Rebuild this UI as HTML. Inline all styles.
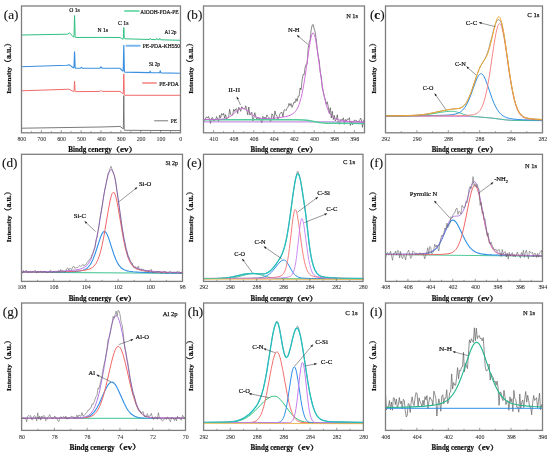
<!DOCTYPE html>
<html><head><meta charset="utf-8"><style>
html,body{margin:0;padding:0;background:#fff;}
body{width:550px;height:455px;overflow:hidden;}
svg{display:block;}
</style></head><body>
<svg width="550" height="455" viewBox="0 0 550 455" font-family='"Liberation Serif", "Noto Serif CJK SC", serif'>
<rect width="550" height="455" fill="#fff"/>
<polyline points="21.5,128.2 100.95,127 118.85,126.5 120.04,126.4 122.83,128.57 123.12,128.89 123.22,128.84 123.32,128.12 123.42,125.39 123.72,98.07 123.82,95.59 124.12,123.34 124.22,128.12 124.32,129.81 124.42,130.22 124.52,130.29 180.5,130.6" fill="none" stroke="#6b6b6b" stroke-width="0.9" stroke-linejoin="round" stroke-linecap="round"/>
<polyline points="21.5,90.8 67.14,89.3 68.73,89.11 72.91,91.26 73.8,91.51 74,90.99 74.1,90.08 74.5,81.5 74.6,81.2 75,89.62 75.2,91.36 75.39,91.66 99.66,91.41 100.25,91.24 100.85,90.47 101.05,90.41 101.75,91.23 102.24,91.39 120.04,91.4 123.12,93.85 123.22,93.71 123.32,92.93 123.42,90.69 123.72,75.1 123.82,73.93 124.22,93.05 124.32,94.63 124.52,95.27 180.5,95.3" fill="none" stroke="#f06a6a" stroke-width="1.0" stroke-linejoin="round" stroke-linecap="round"/>
<polyline points="21.5,66.7 66.25,65.3 68.04,65.18 69.03,64.62 73.01,67.52 73.7,67.92 73.9,67.5 74.1,64.95 74.4,54.78 74.5,52.23 74.6,51.83 75.1,66.27 75.3,67.98 75.49,68.26 80.07,68.23 80.57,68.03 81.36,67.35 81.66,67.46 82.36,68.1 82.95,68.23 99.66,68.11 100.06,68.03 100.25,67.88 100.85,66.89 101.05,66.81 101.75,67.88 102.24,68.1 120.04,68.3 122.93,71.17 123.12,70.5 123.32,66.54 123.72,46.14 123.82,45.22 124.32,68.7 124.52,71.65 124.72,72.16 149.28,72.64 149.48,72.59 149.67,72.33 150.07,71.16 150.17,71.24 150.57,72.47 150.87,72.67 159.42,72.82 159.72,72.63 160.21,70.84 160.31,70.97 160.71,72.59 161.01,72.84 180.5,73.2" fill="none" stroke="#3a8fe0" stroke-width="1.1" stroke-linejoin="round" stroke-linecap="round"/>
<polyline points="21.5,35 67.54,34.2 69.63,32.83 73.11,36.82 73.7,37.19 73.8,37.15 73.9,36.87 74.1,34.11 74.5,16.14 74.6,15.51 75.1,35.62 75.3,37.29 75.49,37.48 100.95,37.4 120.04,37.5 122.93,39.28 123.12,39.17 123.22,38.99 123.32,38.46 123.72,28.29 123.82,27.54 124.22,37.6 124.32,38.43 124.52,38.79 149.38,39.47 149.77,39.3 150.27,38.2 150.37,38.26 150.77,39.27 151.07,39.5 155.94,39.64 156.14,39.62 156.34,39.46 156.83,38.27 156.93,38.34 157.33,39.44 157.53,39.64 158.92,39.72 159.12,39.7 159.32,39.54 159.82,38.35 159.92,38.43 160.31,39.52 160.51,39.72 160.71,39.77 180.5,40.3" fill="none" stroke="#2fc083" stroke-width="1.0" stroke-linejoin="round" stroke-linecap="round"/>
<polyline points="125,11 138.8,11" fill="none" stroke="#7edcb2" stroke-width="2.0" stroke-linejoin="round" stroke-linecap="round"/>
<text x="140.3" y="13.6" font-size="6.36" text-anchor="start" fill="#111" textLength="38.3" lengthAdjust="spacingAndGlyphs" stroke="#111" stroke-width="0.22">AlOOH-PDA-PE</text>
<polyline points="126.5,45.8 139.7,45.8" fill="none" stroke="#7ab6f0" stroke-width="2.0" stroke-linejoin="round" stroke-linecap="round"/>
<text x="142.8" y="48.3" font-size="6.36" text-anchor="start" fill="#111" textLength="37.2" lengthAdjust="spacingAndGlyphs" stroke="#111" stroke-width="0.22">PE-PDA-KH550</text>
<polyline points="143,83 156,83" fill="none" stroke="#f7a0a0" stroke-width="2.0" stroke-linejoin="round" stroke-linecap="round"/>
<text x="159.2" y="85.8" font-size="6.36" text-anchor="start" fill="#111" textLength="19.6" lengthAdjust="spacingAndGlyphs" stroke="#111" stroke-width="0.22">PE-PDA</text>
<polyline points="154.6,120.8 167.7,120.8" fill="none" stroke="#777" stroke-width="1.0" stroke-linejoin="round" stroke-linecap="round"/>
<text x="170.8" y="123.3" font-size="6.36" text-anchor="start" fill="#111" textLength="6.2" lengthAdjust="spacingAndGlyphs" stroke="#111" stroke-width="0.22">PE</text>
<text x="69.2" y="12.2" font-size="6.57" text-anchor="start" fill="#111" textLength="10.5" lengthAdjust="spacingAndGlyphs" stroke="#111" stroke-width="0.22">O 1s</text>
<text x="118" y="25.2" font-size="6.57" text-anchor="start" fill="#111" textLength="10.5" lengthAdjust="spacingAndGlyphs" stroke="#111" stroke-width="0.22">C 1s</text>
<text x="108" y="32.2" font-size="6.57" text-anchor="end" fill="#111" textLength="10.5" lengthAdjust="spacingAndGlyphs" stroke="#111" stroke-width="0.22">N 1s</text>
<text x="164.6" y="34.2" font-size="6.57" text-anchor="start" fill="#111" textLength="11.9" lengthAdjust="spacingAndGlyphs" stroke="#111" stroke-width="0.22">Al 2p</text>
<text x="149" y="66" font-size="6.57" text-anchor="start" fill="#111" textLength="11" lengthAdjust="spacingAndGlyphs" stroke="#111" stroke-width="0.22">Si 2p</text>
<line x1="170.56" y1="132.8" x2="170.56" y2="131.2" stroke="#555" stroke-width="0.6"/>
<line x1="160.62" y1="132.8" x2="160.62" y2="130.2" stroke="#555" stroke-width="0.6"/>
<line x1="150.69" y1="132.8" x2="150.69" y2="131.2" stroke="#555" stroke-width="0.6"/>
<line x1="140.75" y1="132.8" x2="140.75" y2="130.2" stroke="#555" stroke-width="0.6"/>
<line x1="130.81" y1="132.8" x2="130.81" y2="131.2" stroke="#555" stroke-width="0.6"/>
<line x1="120.88" y1="132.8" x2="120.88" y2="130.2" stroke="#555" stroke-width="0.6"/>
<line x1="110.94" y1="132.8" x2="110.94" y2="131.2" stroke="#555" stroke-width="0.6"/>
<line x1="101" y1="132.8" x2="101" y2="130.2" stroke="#555" stroke-width="0.6"/>
<line x1="91.06" y1="132.8" x2="91.06" y2="131.2" stroke="#555" stroke-width="0.6"/>
<line x1="81.12" y1="132.8" x2="81.12" y2="130.2" stroke="#555" stroke-width="0.6"/>
<line x1="71.19" y1="132.8" x2="71.19" y2="131.2" stroke="#555" stroke-width="0.6"/>
<line x1="61.25" y1="132.8" x2="61.25" y2="130.2" stroke="#555" stroke-width="0.6"/>
<line x1="51.31" y1="132.8" x2="51.31" y2="131.2" stroke="#555" stroke-width="0.6"/>
<line x1="41.38" y1="132.8" x2="41.38" y2="130.2" stroke="#555" stroke-width="0.6"/>
<line x1="31.44" y1="132.8" x2="31.44" y2="131.2" stroke="#555" stroke-width="0.6"/>
<rect x="21.5" y="6" width="159" height="126.8" fill="none" stroke="#7e7e7e" stroke-width="1.3"/>
<text x="21.8" y="140.8" font-size="7" text-anchor="middle" fill="#2a2a2a" textLength="8.85" lengthAdjust="spacingAndGlyphs" stroke="#2a2a2a" stroke-width="0.05">800</text>
<text x="41.67" y="140.8" font-size="7" text-anchor="middle" fill="#2a2a2a" textLength="8.85" lengthAdjust="spacingAndGlyphs" stroke="#2a2a2a" stroke-width="0.05">700</text>
<text x="61.55" y="140.8" font-size="7" text-anchor="middle" fill="#2a2a2a" textLength="8.85" lengthAdjust="spacingAndGlyphs" stroke="#2a2a2a" stroke-width="0.05">600</text>
<text x="81.42" y="140.8" font-size="7" text-anchor="middle" fill="#2a2a2a" textLength="8.85" lengthAdjust="spacingAndGlyphs" stroke="#2a2a2a" stroke-width="0.05">500</text>
<text x="101.3" y="140.8" font-size="7" text-anchor="middle" fill="#2a2a2a" textLength="8.85" lengthAdjust="spacingAndGlyphs" stroke="#2a2a2a" stroke-width="0.05">400</text>
<text x="121.17" y="140.8" font-size="7" text-anchor="middle" fill="#2a2a2a" textLength="8.85" lengthAdjust="spacingAndGlyphs" stroke="#2a2a2a" stroke-width="0.05">300</text>
<text x="141.05" y="140.8" font-size="7" text-anchor="middle" fill="#2a2a2a" textLength="8.85" lengthAdjust="spacingAndGlyphs" stroke="#2a2a2a" stroke-width="0.05">200</text>
<text x="160.93" y="140.8" font-size="7" text-anchor="middle" fill="#2a2a2a" textLength="8.85" lengthAdjust="spacingAndGlyphs" stroke="#2a2a2a" stroke-width="0.05">100</text>
<text x="180.8" y="140.8" font-size="7" text-anchor="middle" fill="#2a2a2a" textLength="2.95" lengthAdjust="spacingAndGlyphs" stroke="#2a2a2a" stroke-width="0.05">0</text>
<text x="68.2" y="151.8" font-size="7.2" text-anchor="start" font-weight="bold" fill="#111" textLength="43.6" lengthAdjust="spacingAndGlyphs" stroke="#111" stroke-width="0.22">Bindg cenergy</text>
<text x="110.9" y="151.8" font-size="7.2" text-anchor="start" font-weight="bold" fill="#111" textLength="26.6" lengthAdjust="spacingAndGlyphs" stroke="#111" stroke-width="0.22"><tspan font-family="'Noto Serif CJK SC', serif" font-weight="900">（</tspan>ev<tspan font-family="'Noto Serif CJK SC', serif" font-weight="900">）</tspan></text>
<text x="0" y="0" font-size="7.1" font-weight="bold" text-anchor="middle" fill="#111" stroke="#111" stroke-width="0.2" transform="translate(10.7,66.3) rotate(-90)">Intensity<tspan font-size="7.9" font-family="'Noto Serif CJK SC', serif" font-weight="900">（</tspan><tspan font-size="7.9">a.u.</tspan><tspan font-size="7.9" font-family="'Noto Serif CJK SC', serif" font-weight="900">）</tspan></text>
<text x="3.8" y="19" font-size="13.2" text-anchor="start" fill="#111" stroke="#111" stroke-width="0.12">(a)</text>
<polyline points="203.5,119.49 204.51,120.38 206.52,116.81 207.52,118.11 208.53,116.49 209.54,119.64 210.54,123.48 211.55,117.98 212.56,117.58 213.56,120.91 214.57,120.5 215.57,119.73 216.58,116.61 217.59,119.29 218.59,121.43 219.6,115.27 220.61,117.87 221.61,113.46 222.62,115.19 223.62,113.39 224.63,118.02 225.64,114.68 226.64,118.98 227.65,118.26 228.66,116.76 229.66,109.22 230.67,114.52 231.68,115.27 232.68,114.96 233.69,109.18 234.69,111.46 235.7,109.06 236.71,108.71 237.71,113.52 238.72,107.22 239.73,108.98 240.73,111.32 241.74,106.69 242.74,108.07 243.75,108.9 244.76,109.1 245.76,105.75 247.77,114.9 248.78,107 249.79,115.08 251.8,112.26 252.81,120.96 253.81,117.95 254.82,112.68 255.82,117.04 256.83,118.99 257.84,117.05 258.84,119.95 259.85,117.92 261.86,122.69 262.87,116.41 263.88,119.07 264.88,117.07 265.89,118.81 266.89,114.81 267.9,116.56 268.91,117.6 269.91,120.76 270.92,121.35 271.93,113.75 272.93,115.11 273.94,119.17 274.94,110.94 275.95,115.16 276.96,115.84 277.96,119.42 278.97,117.17 279.98,113.5 280.98,112.7 281.99,112.32 282.99,116.84 284,110.13 285.01,109.61 286.01,110.66 287.02,108.29 288.02,107.1 289.03,103.4 290.04,105.75 291.04,103.51 292.05,107.4 293.06,104.9 294.06,101.87 295.07,102.86 296.07,98.62 297.08,101.37 298.09,96.48 299.09,96.16 300.1,87.99 301.11,89.8 302.11,79.99 303.12,74.59 304.12,74.75 305.13,67.32 306.14,64.35 307.14,64.09 308.15,48.26 309.16,42.54 310.16,39.4 311.17,29.86 312.18,25.17 313.18,24.51 314.19,28.92 315.19,32.16 316.2,39.01 317.21,48.6 318.21,56.36 319.22,60.74 320.23,72.23 321.23,76.04 322.24,88.14 323.24,91.73 324.25,96.64 325.26,99.09 326.26,104.29 327.27,101.8 328.27,106.97 329.28,113.52 330.29,107.71 331.29,117.96 332.3,111.23 333.31,119.57 334.31,115.44 335.32,120.86 336.32,119.37 337.33,114.74 338.34,123.42 339.34,124.28 340.35,120 341.36,119.59 342.36,120.12 343.37,117.85 344.38,124.23 345.38,119.45 346.39,121.06 347.39,118.95 348.4,119.57 349.41,117.71 350.41,125.41 351.42,121.27 352.43,124.71 353.43,121.93 354.44,119.87 355.44,121.04 356.45,120.4 357.46,122.16 358.46,121.07 359.47,121.35 360.48,118.16 361.48,119.92 362.49,127.34 363.49,120.4 364.5,119.29" fill="none" stroke="#3a3a3a" stroke-width="0.6" stroke-linejoin="round" stroke-linecap="round"/>
<polyline points="203.5,121.9 364.5,121.9" fill="none" stroke="#b565d8" stroke-width="0.9" stroke-linejoin="round" stroke-linecap="round"/>
<polyline points="203.5,119.7 284,119.7 298.09,119.8 303.12,120 307.14,120.34 311.17,120.96 319.22,122.48 322.24,122.87 326.26,123.16 336.32,123.37 364.5,123.4" fill="none" stroke="#4fcc9a" stroke-width="1.5" stroke-linejoin="round" stroke-linecap="round"/>
<polyline points="203.5,119.49 214.57,119.43 219.6,119.31 222.62,119.06 225.64,118.48 227.65,117.79 229.66,116.77 231.68,115.41 236.71,111.14 238.72,109.64 239.73,109.07 240.73,108.67 241.74,108.44 242.74,108.41 243.75,108.57 244.76,108.91 245.76,109.42 247.77,110.82 252.81,114.96 254.82,116.28 255.82,116.81 256.83,117.26 258.84,117.91 261.86,118.4 265.89,118.52 270.92,118.32 276.96,117.85 281.99,117.24 286.01,116.51 289.03,115.69 291.04,114.88 293.06,113.69 294.06,112.88 295.07,111.86 296.07,110.57 297.08,108.96 298.09,106.94 299.09,104.44 300.1,101.39 301.11,97.71 302.11,93.36 303.12,88.32 304.12,82.58 306.14,69.36 309.16,48 310.16,41.82 311.17,36.91 312.18,33.8 313.18,32.85 314.19,34.2 315.19,37.71 316.2,42.99 317.21,49.52 321.23,78.84 323.24,91.28 324.25,96.46 325.26,100.92 326.26,104.69 327.27,107.82 328.27,110.38 329.28,112.45 330.29,114.1 331.29,115.42 332.3,116.47 333.31,117.31 335.32,118.52 336.32,118.97 338.34,119.67 342.36,120.6 348.4,121.44 355.44,122.02 364.5,122.46" fill="none" stroke="#cc62d8" stroke-width="0.9" stroke-linejoin="round" stroke-linecap="round"/>
<text x="287.9" y="31.6" font-size="7" text-anchor="start" fill="#111" textLength="11.7" lengthAdjust="spacingAndGlyphs" stroke="#111" stroke-width="0.22">N-H</text>
<line x1="297" y1="35.2" x2="307.8" y2="44.2" stroke="#333" stroke-width="0.5"/>
<polygon points="297,35.2 299.7,36.02 298.29,37.71" fill="#222"/>
<text x="228.2" y="92.3" font-size="7" text-anchor="start" fill="#111" textLength="11.8" lengthAdjust="spacingAndGlyphs" stroke="#111" stroke-width="0.22">II-II</text>
<line x1="236.8" y1="96.8" x2="240.5" y2="105" stroke="#333" stroke-width="0.5"/>
<polygon points="236.8,96.8 238.87,98.72 236.87,99.62" fill="#222"/>
<line x1="354.44" y1="132.8" x2="354.44" y2="130.2" stroke="#555" stroke-width="0.6"/>
<line x1="344.38" y1="132.8" x2="344.38" y2="131.2" stroke="#555" stroke-width="0.6"/>
<line x1="334.31" y1="132.8" x2="334.31" y2="130.2" stroke="#555" stroke-width="0.6"/>
<line x1="324.25" y1="132.8" x2="324.25" y2="131.2" stroke="#555" stroke-width="0.6"/>
<line x1="314.19" y1="132.8" x2="314.19" y2="130.2" stroke="#555" stroke-width="0.6"/>
<line x1="304.12" y1="132.8" x2="304.12" y2="131.2" stroke="#555" stroke-width="0.6"/>
<line x1="294.06" y1="132.8" x2="294.06" y2="130.2" stroke="#555" stroke-width="0.6"/>
<line x1="284" y1="132.8" x2="284" y2="131.2" stroke="#555" stroke-width="0.6"/>
<line x1="273.94" y1="132.8" x2="273.94" y2="130.2" stroke="#555" stroke-width="0.6"/>
<line x1="263.88" y1="132.8" x2="263.88" y2="131.2" stroke="#555" stroke-width="0.6"/>
<line x1="253.81" y1="132.8" x2="253.81" y2="130.2" stroke="#555" stroke-width="0.6"/>
<line x1="243.75" y1="132.8" x2="243.75" y2="131.2" stroke="#555" stroke-width="0.6"/>
<line x1="233.69" y1="132.8" x2="233.69" y2="130.2" stroke="#555" stroke-width="0.6"/>
<line x1="223.62" y1="132.8" x2="223.62" y2="131.2" stroke="#555" stroke-width="0.6"/>
<line x1="213.56" y1="132.8" x2="213.56" y2="130.2" stroke="#555" stroke-width="0.6"/>
<rect x="203.5" y="6" width="161" height="126.8" fill="none" stroke="#7e7e7e" stroke-width="1.3"/>
<text x="213.86" y="140.8" font-size="7" text-anchor="middle" fill="#2a2a2a" textLength="8.85" lengthAdjust="spacingAndGlyphs" stroke="#2a2a2a" stroke-width="0.05">410</text>
<text x="233.99" y="140.8" font-size="7" text-anchor="middle" fill="#2a2a2a" textLength="8.85" lengthAdjust="spacingAndGlyphs" stroke="#2a2a2a" stroke-width="0.05">408</text>
<text x="254.11" y="140.8" font-size="7" text-anchor="middle" fill="#2a2a2a" textLength="8.85" lengthAdjust="spacingAndGlyphs" stroke="#2a2a2a" stroke-width="0.05">406</text>
<text x="274.24" y="140.8" font-size="7" text-anchor="middle" fill="#2a2a2a" textLength="8.85" lengthAdjust="spacingAndGlyphs" stroke="#2a2a2a" stroke-width="0.05">404</text>
<text x="294.36" y="140.8" font-size="7" text-anchor="middle" fill="#2a2a2a" textLength="8.85" lengthAdjust="spacingAndGlyphs" stroke="#2a2a2a" stroke-width="0.05">402</text>
<text x="314.49" y="140.8" font-size="7" text-anchor="middle" fill="#2a2a2a" textLength="8.85" lengthAdjust="spacingAndGlyphs" stroke="#2a2a2a" stroke-width="0.05">400</text>
<text x="334.61" y="140.8" font-size="7" text-anchor="middle" fill="#2a2a2a" textLength="8.85" lengthAdjust="spacingAndGlyphs" stroke="#2a2a2a" stroke-width="0.05">398</text>
<text x="354.74" y="140.8" font-size="7" text-anchor="middle" fill="#2a2a2a" textLength="8.85" lengthAdjust="spacingAndGlyphs" stroke="#2a2a2a" stroke-width="0.05">396</text>
<text x="250.6" y="151.8" font-size="7.2" text-anchor="start" font-weight="bold" fill="#111" textLength="42.51" lengthAdjust="spacingAndGlyphs" stroke="#111" stroke-width="0.22">Bindg cenergy</text>
<text x="292.23" y="151.8" font-size="7.2" text-anchor="start" font-weight="bold" fill="#111" textLength="25.93" lengthAdjust="spacingAndGlyphs" stroke="#111" stroke-width="0.22"><tspan font-family="'Noto Serif CJK SC', serif" font-weight="900">（</tspan>ev<tspan font-family="'Noto Serif CJK SC', serif" font-weight="900">）</tspan></text>
<text x="0" y="0" font-size="7.1" font-weight="bold" text-anchor="middle" fill="#111" stroke="#111" stroke-width="0.2" transform="translate(193.4,66.3) rotate(-90)">Intensity<tspan font-size="7.9" font-family="'Noto Serif CJK SC', serif" font-weight="900">（</tspan><tspan font-size="7.9">a.u.</tspan><tspan font-size="7.9" font-family="'Noto Serif CJK SC', serif" font-weight="900">）</tspan></text>
<text x="186.9" y="18.8" font-size="13.2" text-anchor="start" fill="#111" stroke="#111" stroke-width="0.12">(b)</text>
<text x="358" y="18" font-size="6.9" text-anchor="end" fill="#1a1a1a" textLength="11.8" lengthAdjust="spacingAndGlyphs" stroke="#1a1a1a" stroke-width="0.25">N 1s</text>
<polyline points="385.5,116.1 435.91,116.18 469.51,116.56 477.91,116.93 487.89,117.69 493.67,118.3 504.69,119.77 510.47,120.26 519.4,120.52 542.5,120.6" fill="none" stroke="#c98ae8" stroke-width="0.9" stroke-linejoin="round" stroke-linecap="round"/>
<polyline points="385.5,116.1 407.03,116.02 413.33,115.86 418.58,115.57 423.31,115.15 428.03,114.55 440.63,112.36 444.83,111.75 449.04,111.37 452.71,111.32 454.29,111.47 456.39,111.89 458.49,112.52 465.31,114.86 467.94,115.55 470.56,116.05 475.29,116.64 491.57,118.06 505.74,119.88 510.47,120.26 516.25,120.47 542.5,120.6" fill="none" stroke="#3cc490" stroke-width="0.9" stroke-linejoin="round" stroke-linecap="round"/>
<polyline points="385.5,115.94 422.26,115.72 434.33,115.54 443.26,115.28 449.04,114.97 452.71,114.58 455.86,113.97 458.49,113.04 460.59,111.85 461.64,111.04 462.69,110.07 463.74,108.9 464.79,107.52 466.36,105.02 467.94,101.98 470.04,97.1 475.29,82.68 476.34,80 477.39,77.64 478.44,75.73 479.49,74.39 480.02,73.97 480.54,73.72 481.07,73.65 481.59,73.76 482.12,74.05 483.17,75.16 484.22,76.9 485.27,79.15 486.84,83.24 492.09,98.4 494.19,103.62 495.77,106.94 497.34,109.72 498.92,111.98 500.49,113.78 502.07,115.18 504.17,116.57 506.79,117.72 509.42,118.45 513.1,119.06 517.82,119.5 523.6,119.79 542.5,120.23" fill="none" stroke="#2f8fe6" stroke-width="1.0" stroke-linejoin="round" stroke-linecap="round"/>
<polyline points="385.5,116 445.36,115.83 455.86,115.71 464.26,115.49 469.51,115.21 473.19,114.73 474.76,114.31 475.81,113.91 476.86,113.36 477.91,112.63 478.96,111.66 480.02,110.38 481.07,108.73 482.12,106.64 483.17,104.03 484.22,100.83 485.79,94.83 487.37,87.31 488.94,78.33 490.52,68.18 493.67,46.64 494.72,40 495.77,34.11 496.82,29.28 497.87,25.81 498.39,24.66 498.92,23.92 499.44,23.61 499.97,23.74 500.49,24.29 501.02,25.25 501.54,26.61 502.07,28.35 503.12,32.85 504.17,38.49 505.22,44.98 509.42,73.79 510.99,83.7 512.05,89.62 513.62,97.3 514.67,101.58 515.72,105.21 517.3,109.54 518.87,112.71 520.45,114.95 521.5,116.04 522.55,116.88 523.6,117.52 524.65,118.01 525.7,118.38 527.27,118.78 530.42,119.25 535.15,119.61 542.5,119.92" fill="none" stroke="#f57a7a" stroke-width="0.9" stroke-linejoin="round" stroke-linecap="round"/>
<polyline points="385.5,115.85 400.73,115.73 409.65,115.53 416.48,115.19 422.78,114.58 426.46,114.07 430.66,113.33 442.21,110.84 446.93,109.93 452.71,109.04 457.44,108.62 459.01,108.38 460.06,108.1 461.11,107.7 462.16,107.13 463.21,106.37 464.79,104.79 465.84,103.42 466.89,101.76 468.46,98.74 470.04,95.09 471.61,90.9 476.86,75.18 478.96,69.6 480.02,67.24 481.07,65.2 484.74,59.26 486.32,56.05 487.37,53.3 488.94,48.21 493.67,29.85 495.24,24.65 496.29,22.04 496.82,21.07 497.34,20.34 497.87,19.85 498.39,19.61 498.92,19.63 499.44,19.91 499.97,20.47 500.49,21.3 501.02,22.43 502.07,25.64 503.12,30.14 504.17,35.83 505.22,42.46 509.42,72.04 510.99,82.17 512.05,88.21 513.1,93.59 514.67,100.38 516.25,105.71 517.82,109.71 519.4,112.62 520.97,114.67 522.02,115.67 523.07,116.44 524.12,117.04 525.17,117.5 527.8,118.25 530.95,118.74 535.67,119.17 542.5,119.54" fill="none" stroke="#7a7a7a" stroke-width="0.8" stroke-linejoin="round" stroke-linecap="round"/>
<polyline points="385.5,115.85 400.73,115.73 409.65,115.53 416.48,115.19 422.78,114.58 426.46,114.07 430.66,113.33 442.21,110.84 446.93,109.93 452.71,109.04 457.44,108.62 459.01,108.38 460.06,108.1 461.11,107.7 462.16,107.13 463.21,106.37 464.79,104.79 465.84,103.42 466.89,101.76 468.46,98.74 470.04,95.09 471.61,90.9 476.86,75.18 478.96,69.6 480.02,67.25 481.07,65.21 482.12,63.45 485.27,58.68 486.32,56.74 487.37,54.38 488.42,51.52 489.99,46.24 491.57,39.92 494.19,28.5 495.77,22.48 496.82,19.42 497.34,18.29 497.87,17.48 498.39,17 498.92,16.89 499.44,17.16 499.97,17.81 500.49,18.84 501.54,22 502.59,26.51 503.64,32.17 504.69,38.72 509.42,72.04 510.99,82.17 512.05,88.21 513.1,93.59 514.67,100.38 515.72,104.09 517.3,108.51 518.87,111.76 520.45,114.07 521.5,115.2 522.55,116.08 523.6,116.76 524.65,117.28 525.7,117.68 527.27,118.13 530.42,118.68 535.15,119.13 542.5,119.54" fill="none" stroke="#f2a92e" stroke-width="1.0" stroke-linejoin="round" stroke-linecap="round"/>
<text x="465.8" y="24.7" font-size="6.57" text-anchor="start" fill="#111" textLength="11.4" lengthAdjust="spacingAndGlyphs" stroke="#111" stroke-width="0.22">C-C</text>
<line x1="479" y1="22.5" x2="495.3" y2="26.7" stroke="#333" stroke-width="0.5"/>
<polygon points="479,22.5 481.79,22.08 481.24,24.21" fill="#222"/>
<text x="454.9" y="65.7" font-size="6.57" text-anchor="start" fill="#111" textLength="10.9" lengthAdjust="spacingAndGlyphs" stroke="#111" stroke-width="0.22">C-N</text>
<line x1="466.5" y1="66.5" x2="476" y2="75" stroke="#333" stroke-width="0.5"/>
<polygon points="466.5,66.5 469.17,67.41 467.7,69.05" fill="#222"/>
<text x="422.8" y="90.3" font-size="6.57" text-anchor="start" fill="#111" textLength="10.5" lengthAdjust="spacingAndGlyphs" stroke="#111" stroke-width="0.22">C-O</text>
<line x1="434.6" y1="93.4" x2="445.6" y2="109.2" stroke="#333" stroke-width="0.5"/>
<polygon points="434.6,93.4 436.99,94.91 435.18,96.16" fill="#222"/>
<line x1="526.8" y1="132.8" x2="526.8" y2="131.2" stroke="#555" stroke-width="0.6"/>
<line x1="511.1" y1="132.8" x2="511.1" y2="130.2" stroke="#555" stroke-width="0.6"/>
<line x1="495.4" y1="132.8" x2="495.4" y2="131.2" stroke="#555" stroke-width="0.6"/>
<line x1="479.7" y1="132.8" x2="479.7" y2="130.2" stroke="#555" stroke-width="0.6"/>
<line x1="464" y1="132.8" x2="464" y2="131.2" stroke="#555" stroke-width="0.6"/>
<line x1="448.3" y1="132.8" x2="448.3" y2="130.2" stroke="#555" stroke-width="0.6"/>
<line x1="432.6" y1="132.8" x2="432.6" y2="131.2" stroke="#555" stroke-width="0.6"/>
<line x1="416.9" y1="132.8" x2="416.9" y2="130.2" stroke="#555" stroke-width="0.6"/>
<line x1="401.2" y1="132.8" x2="401.2" y2="131.2" stroke="#555" stroke-width="0.6"/>
<rect x="385.5" y="6" width="157" height="126.8" fill="none" stroke="#7e7e7e" stroke-width="1.3"/>
<text x="385.8" y="140.8" font-size="7" text-anchor="middle" fill="#2a2a2a" textLength="8.85" lengthAdjust="spacingAndGlyphs" stroke="#2a2a2a" stroke-width="0.05">292</text>
<text x="417.2" y="140.8" font-size="7" text-anchor="middle" fill="#2a2a2a" textLength="8.85" lengthAdjust="spacingAndGlyphs" stroke="#2a2a2a" stroke-width="0.05">290</text>
<text x="448.6" y="140.8" font-size="7" text-anchor="middle" fill="#2a2a2a" textLength="8.85" lengthAdjust="spacingAndGlyphs" stroke="#2a2a2a" stroke-width="0.05">288</text>
<text x="480" y="140.8" font-size="7" text-anchor="middle" fill="#2a2a2a" textLength="8.85" lengthAdjust="spacingAndGlyphs" stroke="#2a2a2a" stroke-width="0.05">286</text>
<text x="511.4" y="140.8" font-size="7" text-anchor="middle" fill="#2a2a2a" textLength="8.85" lengthAdjust="spacingAndGlyphs" stroke="#2a2a2a" stroke-width="0.05">284</text>
<text x="542.8" y="140.8" font-size="7" text-anchor="middle" fill="#2a2a2a" textLength="8.85" lengthAdjust="spacingAndGlyphs" stroke="#2a2a2a" stroke-width="0.05">282</text>
<text x="431.8" y="151.8" font-size="7.2" text-anchor="start" font-weight="bold" fill="#111" textLength="41.69" lengthAdjust="spacingAndGlyphs" stroke="#111" stroke-width="0.22">Bindg cenergy</text>
<text x="472.63" y="151.8" font-size="7.2" text-anchor="start" font-weight="bold" fill="#111" textLength="25.43" lengthAdjust="spacingAndGlyphs" stroke="#111" stroke-width="0.22"><tspan font-family="'Noto Serif CJK SC', serif" font-weight="900">（</tspan>ev<tspan font-family="'Noto Serif CJK SC', serif" font-weight="900">）</tspan></text>
<text x="0" y="0" font-size="7.1" font-weight="bold" text-anchor="middle" fill="#111" stroke="#111" stroke-width="0.2" transform="translate(376.3,66.3) rotate(-90)">Intensity<tspan font-size="7.9" font-family="'Noto Serif CJK SC', serif" font-weight="900">（</tspan><tspan font-size="7.9">a.u.</tspan><tspan font-size="7.9" font-family="'Noto Serif CJK SC', serif" font-weight="900">）</tspan></text>
<text x="369.9" y="18.8" font-size="13.2" text-anchor="start" fill="#111" stroke="#111" stroke-width="0.12">(<tspan font-weight="bold">c</tspan>)</text>
<text x="539.5" y="16.6" font-size="6.9" text-anchor="end" fill="#1a1a1a" textLength="12.2" lengthAdjust="spacingAndGlyphs" stroke="#1a1a1a" stroke-width="0.25">C 1s</text>
<polyline points="21.5,272.3 182.5,273.3" fill="none" stroke="#3cc490" stroke-width="1.0" stroke-linejoin="round" stroke-linecap="round"/>
<polyline points="21.5,272.14 51.69,272.1 61.75,271.97 69.8,271.74 75.84,271.39 79.86,270.94 82.88,270.27 84.89,269.48 85.9,268.92 86.91,268.22 87.91,267.35 88.92,266.27 89.92,264.97 90.93,263.4 91.94,261.55 92.94,259.41 94.96,254.27 99.99,238.8 100.99,236.08 102,233.84 103.01,232.26 104.01,231.48 105.02,231.58 106.03,232.54 107.03,234.27 108.04,236.63 109.04,239.44 112.06,248.95 114.08,254.95 116.09,260 117.09,262.1 118.1,263.9 119.11,265.43 120.11,266.7 121.12,267.75 122.12,268.59 124.14,269.82 126.15,270.6 129.17,271.28 133.19,271.77 138.22,272.13 145.27,272.44 154.32,272.7 182.5,273.12" fill="none" stroke="#2f8fe6" stroke-width="1.1" stroke-linejoin="round" stroke-linecap="round"/>
<polyline points="21.5,272.04 41.62,272 55.71,271.86 66.78,271.6 75.84,271.15 81.88,270.61 84.89,270.18 86.91,269.77 88.92,269.2 89.92,268.82 91.94,267.76 92.94,267.02 93.95,266.09 94.96,264.92 95.96,263.47 96.97,261.66 97.97,259.46 98.98,256.81 99.99,253.65 100.99,249.96 102,245.72 104.01,235.66 108.04,211.75 110.05,200.87 111.06,196.7 112.06,193.78 113.07,192.38 114.08,192.62 115.08,194.47 116.09,197.79 117.09,202.27 118.1,207.62 123.13,237.3 125.14,247.1 126.15,251.2 127.16,254.76 128.16,257.78 129.17,260.32 130.18,262.41 131.18,264.13 132.19,265.51 133.19,266.62 134.2,267.5 135.21,268.21 137.22,269.23 140.24,270.17 144.26,270.9 150.3,271.56 158.35,272.09 168.41,272.5 182.5,272.84" fill="none" stroke="#f26868" stroke-width="1.0" stroke-linejoin="round" stroke-linecap="round"/>
<polyline points="21.5,271.88 40.62,271.74 54.71,271.45 64.77,271 72.82,270.32 75.84,269.91 78.86,269.35 80.87,268.82 82.88,268.07 84.89,266.96 85.9,266.21 86.91,265.29 87.91,264.15 88.92,262.76 89.92,261.06 90.93,259.02 91.94,256.57 92.94,253.68 93.95,250.32 94.96,246.44 95.96,242.04 97.97,231.71 99.99,219.66 104.01,194.33 106.03,183.68 107.03,179.26 108.04,175.54 109.04,172.6 110.05,170.56 111.06,169.59 112.06,169.87 113.07,171.56 114.08,174.69 115.08,179.21 116.09,184.9 117.09,191.48 122.12,227.37 124.14,239.34 125.14,244.41 126.15,248.85 127.16,252.67 128.16,255.92 129.17,258.63 130.18,260.87 131.18,262.71 132.19,264.19 133.19,265.39 134.2,266.36 135.21,267.14 137.22,268.28 140.24,269.36 144.26,270.24 150.3,271.06 158.35,271.73 168.41,272.24 182.5,272.67" fill="none" stroke="#b77ae6" stroke-width="1.0" stroke-linejoin="round" stroke-linecap="round"/>
<polyline points="21.5,272.22 22.51,273.29 23.51,270.42 24.52,271.66 25.52,271.24 26.53,270.1 27.54,272.59 28.54,271.83 29.55,271.92 30.56,271.09 31.56,272.29 32.57,271.29 33.58,271.67 34.58,270.7 35.59,270.58 36.59,273.12 37.6,271.27 38.61,272.06 40.62,271.3 41.62,271.22 42.63,272.34 43.64,271.39 45.65,271.67 46.66,272.8 47.66,272.28 48.67,271.95 50.68,270.11 51.69,272.4 52.69,272.36 53.7,271.2 54.71,271.82 55.71,271.99 57.73,271.96 58.73,270.48 59.74,272.34 60.74,269.46 61.75,271.44 62.76,270.92 63.76,271.15 64.77,271.99 65.78,271.41 66.78,268.6 67.79,267.86 68.79,270.16 69.8,268.12 70.81,268.91 71.81,269.54 72.82,266.84 73.83,266.16 74.83,268.31 76.84,267.36 77.85,267.42 78.86,266.29 79.86,265.39 80.87,266.47 82.88,264.33 83.89,266.05 84.89,264.96 85.9,264.77 86.91,262.55 87.91,261.86 89.92,258.78 90.93,257.94 91.94,254.64 92.94,253.01 93.95,249.74 94.96,247.66 95.96,239.94 96.97,237.4 98.98,225.4 99.99,217.83 102,207.23 103.01,200.09 105.02,188.29 106.03,184.72 108.04,173.27 109.04,171.85 110.05,168.55 111.06,166.3 112.06,169.32 113.07,172.87 114.08,174.73 115.08,178.03 116.09,183.95 117.09,192.6 118.1,198.77 122.12,228.18 124.14,239.56 125.14,243.37 126.15,249.36 127.16,251.99 128.16,257.01 129.17,257.36 130.18,260.73 131.18,262.7 132.19,262.87 133.19,267.11 134.2,267.82 135.21,266.67 136.21,268.54 137.22,268.66 138.22,266.09 139.23,269.31 140.24,269.3 141.24,269.71 142.25,268.78 143.26,269.79 144.26,270.06 145.27,271.6 146.28,270.89 147.28,270.69 148.29,272.36 149.29,270.39 150.3,270.67 151.31,269.35 152.31,272.83 153.32,272.31 154.32,272.35 155.33,272.18 156.34,271.7 157.34,271.88 158.35,271.48 159.36,271.59 160.36,271.91 161.37,273.42 162.38,272.52 163.38,271.95 164.39,271.48 165.39,271.47 166.4,273.76 167.41,272.7 169.42,271.93 170.43,271.2 172.44,273.26 173.44,272.02 174.45,272.22 175.46,272.26 176.46,272.62 177.47,270.94 178.47,272.33 179.48,271.74 180.49,273.5 181.49,271.87 182.5,273.24" fill="none" stroke="#5a5a5a" stroke-width="0.55" stroke-linejoin="round" stroke-linecap="round"/>
<text x="73.7" y="218.1" font-size="6.78" text-anchor="start" fill="#111" textLength="12.3" lengthAdjust="spacingAndGlyphs" stroke="#111" stroke-width="0.22">Si-C</text>
<line x1="84.6" y1="221.2" x2="95.5" y2="231.5" stroke="#333" stroke-width="0.5"/>
<polygon points="84.6,221.2 87.25,222.19 85.73,223.79" fill="#222"/>
<text x="138.9" y="185.9" font-size="6.78" text-anchor="start" fill="#111" textLength="12.5" lengthAdjust="spacingAndGlyphs" stroke="#111" stroke-width="0.22">Si-O</text>
<line x1="137.3" y1="187.3" x2="118.2" y2="202.3" stroke="#333" stroke-width="0.5"/>
<polygon points="137.3,187.3 135.93,189.77 134.58,188.04" fill="#222"/>
<line x1="166.4" y1="281.4" x2="166.4" y2="279.8" stroke="#555" stroke-width="0.6"/>
<line x1="150.3" y1="281.4" x2="150.3" y2="278.8" stroke="#555" stroke-width="0.6"/>
<line x1="134.2" y1="281.4" x2="134.2" y2="279.8" stroke="#555" stroke-width="0.6"/>
<line x1="118.1" y1="281.4" x2="118.1" y2="278.8" stroke="#555" stroke-width="0.6"/>
<line x1="102" y1="281.4" x2="102" y2="279.8" stroke="#555" stroke-width="0.6"/>
<line x1="85.9" y1="281.4" x2="85.9" y2="278.8" stroke="#555" stroke-width="0.6"/>
<line x1="69.8" y1="281.4" x2="69.8" y2="279.8" stroke="#555" stroke-width="0.6"/>
<line x1="53.7" y1="281.4" x2="53.7" y2="278.8" stroke="#555" stroke-width="0.6"/>
<line x1="37.6" y1="281.4" x2="37.6" y2="279.8" stroke="#555" stroke-width="0.6"/>
<rect x="21.5" y="154.3" width="161" height="127.1" fill="none" stroke="#7e7e7e" stroke-width="1.3"/>
<text x="21.8" y="289.4" font-size="7" text-anchor="middle" fill="#2a2a2a" textLength="8.85" lengthAdjust="spacingAndGlyphs" stroke="#2a2a2a" stroke-width="0.05">108</text>
<text x="54" y="289.4" font-size="7" text-anchor="middle" fill="#2a2a2a" textLength="8.85" lengthAdjust="spacingAndGlyphs" stroke="#2a2a2a" stroke-width="0.05">106</text>
<text x="86.2" y="289.4" font-size="7" text-anchor="middle" fill="#2a2a2a" textLength="8.85" lengthAdjust="spacingAndGlyphs" stroke="#2a2a2a" stroke-width="0.05">104</text>
<text x="118.4" y="289.4" font-size="7" text-anchor="middle" fill="#2a2a2a" textLength="8.85" lengthAdjust="spacingAndGlyphs" stroke="#2a2a2a" stroke-width="0.05">102</text>
<text x="150.6" y="289.4" font-size="7" text-anchor="middle" fill="#2a2a2a" textLength="8.85" lengthAdjust="spacingAndGlyphs" stroke="#2a2a2a" stroke-width="0.05">100</text>
<text x="182.8" y="289.4" font-size="7" text-anchor="middle" fill="#2a2a2a" textLength="5.9" lengthAdjust="spacingAndGlyphs" stroke="#2a2a2a" stroke-width="0.05">98</text>
<text x="68.7" y="300.8" font-size="7.2" text-anchor="start" font-weight="bold" fill="#111" textLength="42.78" lengthAdjust="spacingAndGlyphs" stroke="#111" stroke-width="0.22">Bindg cenergy</text>
<text x="110.6" y="300.8" font-size="7.2" text-anchor="start" font-weight="bold" fill="#111" textLength="26.1" lengthAdjust="spacingAndGlyphs" stroke="#111" stroke-width="0.22"><tspan font-family="'Noto Serif CJK SC', serif" font-weight="900">（</tspan>ev<tspan font-family="'Noto Serif CJK SC', serif" font-weight="900">）</tspan></text>
<text x="0" y="0" font-size="7.1" font-weight="bold" text-anchor="middle" fill="#111" stroke="#111" stroke-width="0.2" transform="translate(11.2,214.75) rotate(-90)">Intensity<tspan font-size="7.9" font-family="'Noto Serif CJK SC', serif" font-weight="900">（</tspan><tspan font-size="7.9">a.u.</tspan><tspan font-size="7.9" font-family="'Noto Serif CJK SC', serif" font-weight="900">）</tspan></text>
<text x="2" y="166.5" font-size="13.2" text-anchor="start" fill="#111" stroke="#111" stroke-width="0.12">(d)</text>
<text x="178" y="165.2" font-size="6.9" text-anchor="end" fill="#1a1a1a" textLength="12.6" lengthAdjust="spacingAndGlyphs" stroke="#1a1a1a" stroke-width="0.25">Si 2p</text>
<polyline points="203.5,278.5 221.81,278.46 226.48,278.31 230.47,278.02 233.8,277.6 237.13,276.99 246.12,274.68 248.79,274.09 251.45,273.71 253.78,273.59 256.11,273.74 258.44,274.16 260.77,274.79 266.77,276.68 270.43,277.58 274.09,278.15 278.42,278.48 288.74,278.66 363,278.8" fill="none" stroke="#3cc490" stroke-width="0.9" stroke-linejoin="round" stroke-linecap="round"/>
<polyline points="203.5,278.44 233.8,278.41 250.78,278.27 257.78,278 260.44,277.72 262.44,277.35 264.44,276.79 266.1,276.1 267.77,275.18 269.43,273.99 271.1,272.51 272.76,270.74 278.09,264.13 280.09,261.95 281.09,261.09 282.08,260.46 283.08,260.07 284.08,259.95 284.75,260.11 285.41,260.52 286.08,261.15 286.75,261.97 288.08,264.04 292.07,271.11 293.41,273.06 294.41,274.27 295.74,275.56 297.07,276.51 298.4,277.17 300.07,277.7 301.73,278.01 304.06,278.23 311.72,278.48 329.04,278.65 363,278.77" fill="none" stroke="#2f8fe6" stroke-width="1.0" stroke-linejoin="round" stroke-linecap="round"/>
<polyline points="203.5,278.43 246.12,278.35 257.78,278.2 266.1,277.96 272.43,277.58 277.09,277.02 278.75,276.67 280.09,276.25 281.09,275.8 282.08,275.14 283.08,274.16 283.75,273.25 284.42,272.08 285.08,270.56 285.75,268.64 286.41,266.24 287.41,261.63 288.41,255.69 289.41,248.44 292.07,225.45 293.07,217.6 294.07,211.91 294.41,210.7 294.74,209.89 295.07,209.51 295.4,209.53 295.74,209.87 296.07,210.51 296.74,212.64 297.4,215.76 298.73,224.14 302.06,248.28 303.4,256.35 304.39,261.32 305.39,265.36 306.73,269.39 307.39,270.91 308.06,272.15 308.72,273.16 309.72,274.31 310.39,274.89 311.39,275.55 312.39,276.02 313.72,276.47 317.05,277.13 321.71,277.63 328.04,278.01 336.36,278.28 363,278.63" fill="none" stroke="#f57070" stroke-width="0.9" stroke-linejoin="round" stroke-linecap="round"/>
<polyline points="203.5,278.47 252.12,278.46 273.76,278.23 280.42,277.96 285.08,277.56 288.41,276.96 289.41,276.64 290.41,276.17 291.08,275.7 291.74,275.06 292.41,274.17 293.07,272.94 294.07,270.22 295.07,266.11 295.74,262.44 296.74,255.46 300.07,225.65 300.73,221.36 301.06,219.87 301.4,218.91 301.73,218.5 302.06,218.6 302.4,219.09 302.73,219.94 303.06,221.13 303.73,224.4 304.73,230.94 307.72,253.32 308.72,259.48 309.72,264.5 310.72,268.36 311.72,271.21 312.72,273.21 313.39,274.19 314.05,274.94 314.72,275.51 315.72,276.14 317.71,276.87 320.71,277.42 324.71,277.83 330.37,278.15 338.03,278.38 363,278.67" fill="none" stroke="#c77ef0" stroke-width="0.9" stroke-linejoin="round" stroke-linecap="round"/>
<polyline points="203.5,278.65 217.15,278.45 221.81,278.21 225.81,277.85 229.14,277.41 232.47,276.82 244.12,274.24 248.79,273.6 251.12,273.48 253.45,273.49 261.11,273.97 262.77,273.94 264.1,273.8 265.44,273.51 266.43,273.18 268.43,272.17 270.43,270.66 272.76,268.3 274.76,265.85 277.09,262.65 279.09,259.62 280.75,256.73 282.08,253.95 283.08,251.45 284.08,248.46 285.08,244.88 286.75,237.35 288.41,227.75 290.08,216.32 293.07,194 294.41,185.18 295.4,179.82 297.07,172.45 297.4,171.32 297.73,171.02 298.07,171.63 300.07,178.48 301.06,183.4 302.4,191.5 305.39,211.56 306.39,219.44 309.39,245.6 310.06,250.41 311.05,256.42 312.05,261.15 313.39,265.95 314.72,269.46 316.05,271.98 316.72,272.95 317.71,274.1 318.71,274.97 319.71,275.63 320.71,276.12 322.04,276.58 325.04,277.19 330.37,277.69 338.36,278.07 348.68,278.33 363,278.51" fill="none" stroke="#888" stroke-width="0.8" stroke-linejoin="round" stroke-linecap="round"/>
<polyline points="203.5,278.65 217.15,278.45 221.81,278.21 225.81,277.85 229.14,277.41 232.47,276.82 244.12,274.24 248.79,273.6 252.78,273.47 260.77,273.96 262.44,273.96 263.77,273.84 265.1,273.59 266.1,273.3 268.1,272.37 270.1,270.95 272.43,268.67 274.43,266.28 276.76,263.13 278.75,260.15 280.42,257.35 281.75,254.7 282.75,252.33 283.75,249.52 284.75,246.14 285.75,242.11 286.75,237.35 288.41,227.75 290.08,216.32 293.07,194 294.74,183.25 295.74,178.36 296.4,175.99 297.07,174.43 297.4,173.98 297.73,173.76 298.07,173.77 298.4,174.01 298.73,174.47 299.07,175.16 299.73,177.18 300.73,181.61 301.73,187.31 305.39,211.56 306.39,219.44 309.39,245.6 310.06,250.41 311.05,256.42 312.05,261.15 313.39,265.95 314.72,269.46 316.05,271.98 316.72,272.95 317.71,274.1 318.71,274.97 319.71,275.63 320.71,276.12 322.04,276.58 325.04,277.19 330.37,277.69 338.36,278.07 348.68,278.33 363,278.51" fill="none" stroke="#22c0c0" stroke-width="1.3" stroke-linejoin="round" stroke-linecap="round"/>
<polyline points="203.5,279.1 363,279.4" fill="none" stroke="#e8b64a" stroke-width="0.9" stroke-linejoin="round" stroke-linecap="round"/>
<text x="234.3" y="256.2" font-size="6.57" text-anchor="start" fill="#111" textLength="10.8" lengthAdjust="spacingAndGlyphs" stroke="#111" stroke-width="0.22">C-O</text>
<line x1="242.2" y1="258.8" x2="252.4" y2="272.7" stroke="#333" stroke-width="0.5"/>
<polygon points="242.2,258.8 244.63,260.25 242.85,261.55" fill="#222"/>
<text x="254.5" y="243.6" font-size="6.57" text-anchor="start" fill="#111" textLength="11" lengthAdjust="spacingAndGlyphs" stroke="#111" stroke-width="0.22">C-N</text>
<line x1="263.8" y1="246.5" x2="281.8" y2="258.8" stroke="#333" stroke-width="0.5"/>
<polygon points="263.8,246.5 266.57,247.06 265.33,248.88" fill="#222"/>
<text x="317.3" y="194.6" font-size="6.57" text-anchor="start" fill="#111" textLength="12.6" lengthAdjust="spacingAndGlyphs" stroke="#111" stroke-width="0.22">C-Si</text>
<line x1="318" y1="197" x2="297.5" y2="212.2" stroke="#333" stroke-width="0.5"/>
<polygon points="318,197 316.57,199.43 315.26,197.66" fill="#222"/>
<text x="326.3" y="211.1" font-size="6.57" text-anchor="start" fill="#111" textLength="11" lengthAdjust="spacingAndGlyphs" stroke="#111" stroke-width="0.22">C-C</text>
<line x1="327.1" y1="213.6" x2="304.3" y2="222.6" stroke="#333" stroke-width="0.5"/>
<polygon points="327.1,213.6 325.09,215.58 324.28,213.53" fill="#222"/>
<line x1="349.71" y1="281.4" x2="349.71" y2="279.8" stroke="#555" stroke-width="0.6"/>
<line x1="336.42" y1="281.4" x2="336.42" y2="278.8" stroke="#555" stroke-width="0.6"/>
<line x1="323.12" y1="281.4" x2="323.12" y2="279.8" stroke="#555" stroke-width="0.6"/>
<line x1="309.83" y1="281.4" x2="309.83" y2="278.8" stroke="#555" stroke-width="0.6"/>
<line x1="296.54" y1="281.4" x2="296.54" y2="279.8" stroke="#555" stroke-width="0.6"/>
<line x1="283.25" y1="281.4" x2="283.25" y2="278.8" stroke="#555" stroke-width="0.6"/>
<line x1="269.96" y1="281.4" x2="269.96" y2="279.8" stroke="#555" stroke-width="0.6"/>
<line x1="256.67" y1="281.4" x2="256.67" y2="278.8" stroke="#555" stroke-width="0.6"/>
<line x1="243.38" y1="281.4" x2="243.38" y2="279.8" stroke="#555" stroke-width="0.6"/>
<line x1="230.08" y1="281.4" x2="230.08" y2="278.8" stroke="#555" stroke-width="0.6"/>
<line x1="216.79" y1="281.4" x2="216.79" y2="279.8" stroke="#555" stroke-width="0.6"/>
<rect x="203.5" y="154.3" width="159.5" height="127.1" fill="none" stroke="#7e7e7e" stroke-width="1.3"/>
<text x="203.8" y="289.4" font-size="7" text-anchor="middle" fill="#2a2a2a" textLength="8.85" lengthAdjust="spacingAndGlyphs" stroke="#2a2a2a" stroke-width="0.05">292</text>
<text x="230.38" y="289.4" font-size="7" text-anchor="middle" fill="#2a2a2a" textLength="8.85" lengthAdjust="spacingAndGlyphs" stroke="#2a2a2a" stroke-width="0.05">290</text>
<text x="256.97" y="289.4" font-size="7" text-anchor="middle" fill="#2a2a2a" textLength="8.85" lengthAdjust="spacingAndGlyphs" stroke="#2a2a2a" stroke-width="0.05">288</text>
<text x="283.55" y="289.4" font-size="7" text-anchor="middle" fill="#2a2a2a" textLength="8.85" lengthAdjust="spacingAndGlyphs" stroke="#2a2a2a" stroke-width="0.05">286</text>
<text x="310.13" y="289.4" font-size="7" text-anchor="middle" fill="#2a2a2a" textLength="8.85" lengthAdjust="spacingAndGlyphs" stroke="#2a2a2a" stroke-width="0.05">284</text>
<text x="336.72" y="289.4" font-size="7" text-anchor="middle" fill="#2a2a2a" textLength="8.85" lengthAdjust="spacingAndGlyphs" stroke="#2a2a2a" stroke-width="0.05">282</text>
<text x="363.3" y="289.4" font-size="7" text-anchor="middle" fill="#2a2a2a" textLength="8.85" lengthAdjust="spacingAndGlyphs" stroke="#2a2a2a" stroke-width="0.05">280</text>
<text x="250.6" y="300.8" font-size="7.2" text-anchor="start" font-weight="bold" fill="#111" textLength="42.51" lengthAdjust="spacingAndGlyphs" stroke="#111" stroke-width="0.22">Bindg cenergy</text>
<text x="292.23" y="300.8" font-size="7.2" text-anchor="start" font-weight="bold" fill="#111" textLength="25.93" lengthAdjust="spacingAndGlyphs" stroke="#111" stroke-width="0.22"><tspan font-family="'Noto Serif CJK SC', serif" font-weight="900">（</tspan>ev<tspan font-family="'Noto Serif CJK SC', serif" font-weight="900">）</tspan></text>
<text x="0" y="0" font-size="7.1" font-weight="bold" text-anchor="middle" fill="#111" stroke="#111" stroke-width="0.2" transform="translate(193.4,214.75) rotate(-90)">Intensity<tspan font-size="7.9" font-family="'Noto Serif CJK SC', serif" font-weight="900">（</tspan><tspan font-size="7.9">a.u.</tspan><tspan font-size="7.9" font-family="'Noto Serif CJK SC', serif" font-weight="900">）</tspan></text>
<text x="186.9" y="167.2" font-size="13.2" text-anchor="start" fill="#111" stroke="#111" stroke-width="0.12">(e)</text>
<text x="355" y="164.4" font-size="6.9" text-anchor="end" fill="#1a1a1a" textLength="12" lengthAdjust="spacingAndGlyphs" stroke="#1a1a1a" stroke-width="0.25">C 1s</text>
<polyline points="385.5,254.6 542.5,256.2" fill="none" stroke="#3cc490" stroke-width="0.9" stroke-linejoin="round" stroke-linecap="round"/>
<polyline points="385.5,254.37 407.64,254.32 414.69,254.2 420.72,253.98 424.75,253.67 427.77,253.2 429.78,252.67 431.79,251.85 433.81,250.63 435.82,248.86 437.83,246.42 438.84,244.93 439.85,243.24 441.86,239.33 446.89,227.82 448.9,223.72 449.91,222.1 450.92,220.9 451.92,220.18 452.93,219.99 453.94,220.29 454.94,221.01 455.95,222.12 456.96,223.57 458.97,227.21 465.01,239.72 467.02,243.29 469.03,246.27 471.04,248.64 473.06,250.45 475.07,251.77 477.08,252.72 480.1,253.63 483.12,254.17 487.15,254.58 492.18,254.89 511.3,255.51 542.5,256.04" fill="none" stroke="#2f8fe6" stroke-width="1.1" stroke-linejoin="round" stroke-linecap="round"/>
<polyline points="385.5,254.48 422.74,254.64 433.81,254.56 441.86,254.35 446.89,253.98 449.91,253.41 451.92,252.66 452.93,252.11 453.94,251.4 454.94,250.48 455.95,249.33 456.96,247.88 457.96,246.1 458.97,243.95 459.97,241.38 460.98,238.37 461.99,234.92 464,226.71 466.01,217.12 469.03,201.98 471.04,193.24 472.05,189.85 473.06,187.35 474.06,185.88 475.07,185.53 476.08,186.37 477.08,188.36 478.09,191.37 479.1,195.24 481.11,204.71 485.13,225.23 487.15,233.96 488.15,237.66 489.16,240.89 490.17,243.66 491.17,245.98 492.18,247.91 493.19,249.47 494.19,250.72 495.2,251.71 496.21,252.48 497.21,253.08 498.22,253.55 500.23,254.17 503.25,254.68 508.28,255.09 516.33,255.43 542.5,256" fill="none" stroke="#f26868" stroke-width="1.0" stroke-linejoin="round" stroke-linecap="round"/>
<polyline points="385.5,254.25 399.59,254.21 409.65,254.08 417.71,253.83 422.74,253.51 425.76,253.16 428.78,252.53 430.79,251.83 431.79,251.36 433.81,250.09 435.82,248.27 436.83,247.11 438.84,244.24 439.85,242.51 440.85,240.6 442.87,236.27 447.9,224.26 449.91,220.26 450.92,218.72 451.92,217.57 452.93,216.82 453.94,216.39 454.94,216.19 457.96,216.05 458.97,215.81 459.97,215.29 460.98,214.41 461.99,213.09 462.99,211.32 464,209.06 465.01,206.36 467.02,199.89 470.04,189.41 471.04,186.41 472.05,183.97 473.06,182.3 474.06,181.54 475.07,181.8 476.08,183.14 477.08,185.55 478.09,188.91 479.1,193.07 480.1,197.82 485.13,224.02 487.15,232.9 488.15,236.67 489.16,239.96 490.17,242.77 491.17,245.14 492.18,247.11 493.19,248.71 494.19,249.99 495.2,251.02 496.21,251.82 497.21,252.45 498.22,252.94 499.22,253.32 501.24,253.85 504.26,254.31 510.29,254.8 518.35,255.19 542.5,255.84" fill="none" stroke="#b77ae6" stroke-width="0.9" stroke-linejoin="round" stroke-linecap="round"/>
<polyline points="385.5,258.82 386.51,253.31 387.51,252.44 388.52,254.82 389.53,254.24 390.53,251.27 392.54,260.29 393.55,253.47 394.56,253.63 395.56,251.1 396.57,255.19 397.58,250.48 398.58,250.9 399.59,258.05 400.6,251.49 401.6,257.44 402.61,258.76 403.62,254.95 404.62,255.82 405.63,260 406.63,253.54 407.64,252.34 408.65,250.04 410.66,258.49 411.67,256.91 412.67,251.18 413.68,251.41 414.69,252.43 415.69,254.79 416.7,253.26 417.71,254.47 418.71,254.67 419.72,252.83 421.73,254.22 422.74,253.26 423.74,254.93 424.75,258.91 425.76,254.94 426.76,253.16 427.77,247.73 428.78,253.7 429.78,246.38 430.79,247.61 431.79,253.92 432.8,252.9 433.81,249.64 434.81,244.13 435.82,247.15 436.83,245.07 437.83,247.68 438.84,251.01 439.85,243.16 440.85,238.26 441.86,235 442.87,236.1 443.87,233.38 444.88,228.01 445.88,229.34 446.89,223.08 447.9,227.51 448.9,225.13 449.91,223.17 450.92,216.71 451.92,218.16 452.93,214.99 453.94,213.2 454.94,212.52 455.95,208.98 456.96,208.07 457.96,214.46 458.97,211.28 459.97,212.27 460.98,214.23 461.99,205.33 462.99,207.03 464,208.23 465.01,206.65 466.01,201.6 467.02,202.67 468.03,196.81 469.03,189.07 470.04,186.58 471.04,188.81 472.05,185.36 473.06,176.6 474.06,185.58 475.07,183.59 476.08,187.17 477.08,184.4 478.09,188.02 479.1,189.69 480.1,205.43 481.11,202.45 482.12,213.11 483.12,211.8 484.13,219.5 485.13,219 487.15,235.85 488.15,232.91 489.16,243.17 490.17,243.78 491.17,242.01 492.18,245.6 493.19,247.33 494.19,249.85 495.2,249.41 496.21,249.34 497.21,251.54 498.22,249.86 499.22,249.45 500.23,253.47 501.24,256.5 502.24,249.45 503.25,254.2 504.26,252.36 505.26,251.49 506.27,257.07 507.28,253.04 508.28,259.17 509.29,252.4 510.29,255.96 511.3,254.18 512.31,252.65 513.31,256.73 514.32,254.55 515.33,256.87 516.33,254.97 517.34,251.89 518.35,254.89 519.35,255.39 520.36,258.14 521.37,252.59 522.37,255.22 523.38,250.21 524.38,257.36 525.39,252.19 526.4,250.04 527.4,255.31 528.41,258.84 529.42,250.97 530.42,252.31 531.43,253.37 532.44,252.24 533.44,256.79 534.45,253.25 535.46,253.53 536.46,257.47 537.47,253.47 538.47,257.06 539.48,252.87 540.49,252.17 541.49,250.32 542.5,261.43" fill="none" stroke="#5a5a5a" stroke-width="0.55" stroke-linejoin="round" stroke-linecap="round"/>
<text x="409.8" y="196.2" font-size="6.57" text-anchor="start" fill="#111" textLength="27.5" lengthAdjust="spacingAndGlyphs" stroke="#111" stroke-width="0.22">Pyrrolic N</text>
<line x1="434.2" y1="200.8" x2="449.6" y2="217.7" stroke="#333" stroke-width="0.5"/>
<polygon points="434.2,200.8 436.76,201.98 435.14,203.46" fill="#222"/>
<text x="494.2" y="181.2" font-size="6.57" text-anchor="start" fill="#111" stroke="#111" stroke-width="0.22">-NH<tspan font-size="4.2" dy="1.5">2</tspan></text>
<line x1="493.3" y1="182.3" x2="478.8" y2="193" stroke="#333" stroke-width="0.5"/>
<polygon points="493.3,182.3 491.86,184.73 490.55,182.96" fill="#222"/>
<line x1="531.29" y1="281.4" x2="531.29" y2="279.8" stroke="#555" stroke-width="0.6"/>
<line x1="520.07" y1="281.4" x2="520.07" y2="278.8" stroke="#555" stroke-width="0.6"/>
<line x1="508.86" y1="281.4" x2="508.86" y2="279.8" stroke="#555" stroke-width="0.6"/>
<line x1="497.64" y1="281.4" x2="497.64" y2="278.8" stroke="#555" stroke-width="0.6"/>
<line x1="486.43" y1="281.4" x2="486.43" y2="279.8" stroke="#555" stroke-width="0.6"/>
<line x1="475.21" y1="281.4" x2="475.21" y2="278.8" stroke="#555" stroke-width="0.6"/>
<line x1="464" y1="281.4" x2="464" y2="279.8" stroke="#555" stroke-width="0.6"/>
<line x1="452.79" y1="281.4" x2="452.79" y2="278.8" stroke="#555" stroke-width="0.6"/>
<line x1="441.57" y1="281.4" x2="441.57" y2="279.8" stroke="#555" stroke-width="0.6"/>
<line x1="430.36" y1="281.4" x2="430.36" y2="278.8" stroke="#555" stroke-width="0.6"/>
<line x1="419.14" y1="281.4" x2="419.14" y2="279.8" stroke="#555" stroke-width="0.6"/>
<line x1="407.93" y1="281.4" x2="407.93" y2="278.8" stroke="#555" stroke-width="0.6"/>
<line x1="396.71" y1="281.4" x2="396.71" y2="279.8" stroke="#555" stroke-width="0.6"/>
<rect x="385.5" y="154.3" width="157" height="127.1" fill="none" stroke="#7e7e7e" stroke-width="1.3"/>
<text x="385.8" y="289.4" font-size="7" text-anchor="middle" fill="#2a2a2a" textLength="8.85" lengthAdjust="spacingAndGlyphs" stroke="#2a2a2a" stroke-width="0.05">408</text>
<text x="408.23" y="289.4" font-size="7" text-anchor="middle" fill="#2a2a2a" textLength="8.85" lengthAdjust="spacingAndGlyphs" stroke="#2a2a2a" stroke-width="0.05">406</text>
<text x="430.66" y="289.4" font-size="7" text-anchor="middle" fill="#2a2a2a" textLength="8.85" lengthAdjust="spacingAndGlyphs" stroke="#2a2a2a" stroke-width="0.05">404</text>
<text x="453.09" y="289.4" font-size="7" text-anchor="middle" fill="#2a2a2a" textLength="8.85" lengthAdjust="spacingAndGlyphs" stroke="#2a2a2a" stroke-width="0.05">402</text>
<text x="475.51" y="289.4" font-size="7" text-anchor="middle" fill="#2a2a2a" textLength="8.85" lengthAdjust="spacingAndGlyphs" stroke="#2a2a2a" stroke-width="0.05">400</text>
<text x="497.94" y="289.4" font-size="7" text-anchor="middle" fill="#2a2a2a" textLength="8.85" lengthAdjust="spacingAndGlyphs" stroke="#2a2a2a" stroke-width="0.05">398</text>
<text x="520.37" y="289.4" font-size="7" text-anchor="middle" fill="#2a2a2a" textLength="8.85" lengthAdjust="spacingAndGlyphs" stroke="#2a2a2a" stroke-width="0.05">396</text>
<text x="542.8" y="289.4" font-size="7" text-anchor="middle" fill="#2a2a2a" textLength="8.85" lengthAdjust="spacingAndGlyphs" stroke="#2a2a2a" stroke-width="0.05">394</text>
<text x="431.8" y="300.8" font-size="7.2" text-anchor="start" font-weight="bold" fill="#111" textLength="41.69" lengthAdjust="spacingAndGlyphs" stroke="#111" stroke-width="0.22">Bindg cenergy</text>
<text x="472.63" y="300.8" font-size="7.2" text-anchor="start" font-weight="bold" fill="#111" textLength="25.43" lengthAdjust="spacingAndGlyphs" stroke="#111" stroke-width="0.22"><tspan font-family="'Noto Serif CJK SC', serif" font-weight="900">（</tspan>ev<tspan font-family="'Noto Serif CJK SC', serif" font-weight="900">）</tspan></text>
<text x="0" y="0" font-size="7.1" font-weight="bold" text-anchor="middle" fill="#111" stroke="#111" stroke-width="0.2" transform="translate(376.3,214.75) rotate(-90)">Intensity<tspan font-size="7.9" font-family="'Noto Serif CJK SC', serif" font-weight="900">（</tspan><tspan font-size="7.9">a.u.</tspan><tspan font-size="7.9" font-family="'Noto Serif CJK SC', serif" font-weight="900">）</tspan></text>
<text x="369.9" y="167.2" font-size="13.2" text-anchor="start" fill="#111" stroke="#111" stroke-width="0.12">(f)</text>
<text x="536.9" y="168.1" font-size="6.9" text-anchor="end" fill="#1a1a1a" textLength="12" lengthAdjust="spacingAndGlyphs" stroke="#1a1a1a" stroke-width="0.25">N 1s</text>
<polyline points="21.6,418.3 185.5,418.3" fill="none" stroke="#3cc490" stroke-width="1.0" stroke-linejoin="round" stroke-linecap="round"/>
<polyline points="21.6,418.27 62.83,418.21 77.91,418.08 80.93,417.95 83.94,417.65 85.95,417.27 87.96,416.65 89.98,415.68 91.99,414.23 94,412.17 95,410.89 97.01,407.77 99.03,403.96 101.04,399.58 105.06,390.38 107.07,386.44 108.07,384.84 109.08,383.58 110.09,382.68 111.09,382.19 112.1,382.13 113.1,382.49 114.11,383.27 115.11,384.43 116.12,385.93 118.13,389.74 124.16,403.33 126.17,407.24 127.18,408.95 128.19,410.47 130.2,412.97 132.21,414.8 134.22,416.06 136.23,416.9 138.24,417.43 141.26,417.85 144.27,418.04 154.33,418.19 185.5,418.26" fill="none" stroke="#2f8fe6" stroke-width="1.1" stroke-linejoin="round" stroke-linecap="round"/>
<polyline points="21.6,418.25 66.85,418.13 77.91,418.02 82.94,417.86 86.96,417.49 89.98,416.79 91.99,415.94 92.99,415.35 94,414.6 95,413.68 96.01,412.56 97.01,411.21 98.02,409.6 99.03,407.7 100.03,405.51 101.04,402.98 103.05,396.94 105.06,389.63 107.07,381.31 111.09,363.77 113.1,356.07 114.11,352.86 115.11,350.22 116.12,348.22 117.12,346.93 118.13,346.41 119.14,346.67 120.14,347.7 121.15,349.46 122.15,351.9 123.16,354.92 125.17,362.37 131.2,388.28 133.21,395.78 135.22,402.05 136.23,404.68 137.23,406.99 138.24,408.99 139.25,410.69 140.25,412.13 141.26,413.32 142.26,414.31 143.27,415.11 145.28,416.27 146.28,416.68 148.3,417.24 151.31,417.69 154.33,417.9 159.36,418.03 185.5,418.2" fill="none" stroke="#f26868" stroke-width="1.0" stroke-linejoin="round" stroke-linecap="round"/>
<polyline points="21.6,418.22 64.84,418.05 74.89,417.9 79.92,417.68 81.93,417.49 83.94,417.15 85.95,416.59 86.96,416.18 87.96,415.66 88.97,415 89.98,414.17 90.98,413.14 91.99,411.87 92.99,410.33 94,408.47 95,406.27 96.01,403.68 97.01,400.68 99.03,393.36 100.03,389.03 102.04,379.09 104.05,367.74 109.08,337.74 111.09,327.66 112.1,323.57 113.1,320.26 114.11,317.83 115.11,316.34 116.12,315.85 117.12,316.35 118.13,317.85 119.14,320.3 120.14,323.62 121.15,327.72 123.16,337.79 128.19,367.57 130.2,378.81 132.21,388.67 133.21,392.98 134.22,396.85 135.22,400.28 136.23,403.28 137.23,405.89 138.24,408.11 139.25,410 140.25,411.57 141.26,412.87 142.26,413.94 143.27,414.8 144.27,415.49 145.28,416.04 147.29,416.81 150.31,417.44 154.33,417.78 159.36,417.94 185.5,418.16" fill="none" stroke="#b77ae6" stroke-width="1.0" stroke-linejoin="round" stroke-linecap="round"/>
<polyline points="21.6,417.62 22.61,418.69 23.61,418.16 24.62,418.52 25.62,418.31 26.63,421.84 27.63,416.24 28.64,415.25 29.64,416.29 30.65,415.67 31.66,419.62 32.66,419.76 33.67,416.37 34.67,415.56 35.68,417.52 36.68,420.84 37.69,412.83 38.69,419.19 39.7,416.14 40.7,420.16 41.71,416.13 42.72,417.63 43.72,415.31 44.73,416.31 45.73,420.8 46.74,419.72 47.74,417.39 48.75,416.5 49.75,414.55 50.76,417.39 51.77,418.08 53.78,417.95 54.78,415.99 55.79,417.99 56.79,418.04 57.8,420.56 58.8,421.64 59.81,417.83 60.82,416.63 61.82,417.95 62.83,416.91 63.83,416.65 64.84,417.94 65.84,416.05 66.85,419.18 67.85,417.82 68.86,418.47 69.87,417.64 70.87,416.58 71.88,416.14 72.88,417.46 73.89,416.82 74.89,418.26 75.9,417.73 76.9,415.06 77.91,417.65 78.91,414.8 79.92,415.95 80.93,416.28 81.93,412.53 82.94,416.19 83.94,415.75 85.95,413.18 86.96,412.33 87.96,410.11 88.97,410.22 89.98,408.3 90.98,407.98 91.99,403.8 92.99,404.64 94,402.37 96.01,396.38 97.01,395.41 98.02,388.04 99.03,388.58 102.04,375.73 103.05,368.79 104.05,364.27 105.06,360.47 107.07,348.26 108.07,339.35 109.08,337.8 110.09,333.89 112.1,323.32 113.1,316.38 114.11,318.28 116.12,311.11 117.12,316.11 118.13,310.2 119.14,311.14 120.14,315.02 121.15,322.68 122.15,324.86 123.16,332.39 124.16,342.15 125.17,349.1 126.17,353.09 127.18,359.77 128.19,364.41 130.2,379.43 131.2,384.61 132.21,388.84 133.21,394.85 134.22,395.37 136.23,404.67 137.23,407 138.24,410.15 139.25,410.75 140.25,410.98 141.26,413.56 142.26,412.03 143.27,411.68 144.27,416.59 145.28,415.94 146.28,417.06 147.29,413.59 148.3,416.38 150.31,415.8 151.31,413.27 152.32,417.02 153.32,419.43 154.33,418.51 155.33,416.68 156.34,417.83 157.35,419.33 158.35,412.67 159.36,417.7 160.36,418.99 161.37,419.27 162.37,421.22 163.38,420.16 164.38,418.61 165.39,418.6 166.4,419.53 167.4,417.02 168.41,417.98 170.42,421.79 171.42,417.78 172.43,418 173.43,418.47 174.44,420.65 175.44,418.05 176.45,420.91 177.46,416.28 178.46,417.77 179.47,417.75 180.47,419.63 181.48,420.13 182.48,415.28 183.49,416.41 184.49,418.79 185.5,416.91" fill="none" stroke="#5a5a5a" stroke-width="0.55" stroke-linejoin="round" stroke-linecap="round"/>
<text x="88.5" y="374.5" font-size="6.57" text-anchor="start" fill="#111" textLength="6.5" lengthAdjust="spacingAndGlyphs" stroke="#111" stroke-width="0.22">Al</text>
<line x1="96.6" y1="374.8" x2="111" y2="381.8" stroke="#333" stroke-width="0.5"/>
<polygon points="96.6,374.8 99.42,374.95 98.46,376.93" fill="#222"/>
<text x="135.6" y="338.6" font-size="6.78" text-anchor="start" fill="#111" textLength="13.5" lengthAdjust="spacingAndGlyphs" stroke="#111" stroke-width="0.22">Al-O</text>
<line x1="133.3" y1="339.3" x2="118.8" y2="344.6" stroke="#333" stroke-width="0.5"/>
<polygon points="133.3,339.3 131.24,341.23 130.48,339.16" fill="#222"/>
<line x1="169.11" y1="430.4" x2="169.11" y2="428.8" stroke="#555" stroke-width="0.6"/>
<line x1="152.72" y1="430.4" x2="152.72" y2="427.8" stroke="#555" stroke-width="0.6"/>
<line x1="136.33" y1="430.4" x2="136.33" y2="428.8" stroke="#555" stroke-width="0.6"/>
<line x1="119.94" y1="430.4" x2="119.94" y2="427.8" stroke="#555" stroke-width="0.6"/>
<line x1="103.55" y1="430.4" x2="103.55" y2="428.8" stroke="#555" stroke-width="0.6"/>
<line x1="87.16" y1="430.4" x2="87.16" y2="427.8" stroke="#555" stroke-width="0.6"/>
<line x1="70.77" y1="430.4" x2="70.77" y2="428.8" stroke="#555" stroke-width="0.6"/>
<line x1="54.38" y1="430.4" x2="54.38" y2="427.8" stroke="#555" stroke-width="0.6"/>
<line x1="37.99" y1="430.4" x2="37.99" y2="428.8" stroke="#555" stroke-width="0.6"/>
<rect x="21.6" y="303" width="163.9" height="127.4" fill="none" stroke="#7e7e7e" stroke-width="1.3"/>
<text x="21.9" y="438.8" font-size="7" text-anchor="middle" fill="#2a2a2a" textLength="5.9" lengthAdjust="spacingAndGlyphs" stroke="#2a2a2a" stroke-width="0.05">80</text>
<text x="54.68" y="438.8" font-size="7" text-anchor="middle" fill="#2a2a2a" textLength="5.9" lengthAdjust="spacingAndGlyphs" stroke="#2a2a2a" stroke-width="0.05">78</text>
<text x="87.46" y="438.8" font-size="7" text-anchor="middle" fill="#2a2a2a" textLength="5.9" lengthAdjust="spacingAndGlyphs" stroke="#2a2a2a" stroke-width="0.05">76</text>
<text x="120.24" y="438.8" font-size="7" text-anchor="middle" fill="#2a2a2a" textLength="5.9" lengthAdjust="spacingAndGlyphs" stroke="#2a2a2a" stroke-width="0.05">74</text>
<text x="153.02" y="438.8" font-size="7" text-anchor="middle" fill="#2a2a2a" textLength="5.9" lengthAdjust="spacingAndGlyphs" stroke="#2a2a2a" stroke-width="0.05">72</text>
<text x="185.8" y="438.8" font-size="7" text-anchor="middle" fill="#2a2a2a" textLength="5.9" lengthAdjust="spacingAndGlyphs" stroke="#2a2a2a" stroke-width="0.05">70</text>
<text x="69.5" y="450.4" font-size="7.6" text-anchor="start" font-weight="bold" fill="#111" textLength="45.31" lengthAdjust="spacingAndGlyphs" stroke="#111" stroke-width="0.22">Bindg cenergy</text>
<text x="113.87" y="450.4" font-size="7.6" text-anchor="start" font-weight="bold" fill="#111" textLength="27.64" lengthAdjust="spacingAndGlyphs" stroke="#111" stroke-width="0.22"><tspan font-family="'Noto Serif CJK SC', serif" font-weight="900">（</tspan>ev<tspan font-family="'Noto Serif CJK SC', serif" font-weight="900">）</tspan></text>
<text x="0" y="0" font-size="7.1" font-weight="bold" text-anchor="middle" fill="#111" stroke="#111" stroke-width="0.2" transform="translate(11.2,363.6) rotate(-90)">Intensity<tspan font-size="7.9" font-family="'Noto Serif CJK SC', serif" font-weight="900">（</tspan><tspan font-size="7.9">a.u.</tspan><tspan font-size="7.9" font-family="'Noto Serif CJK SC', serif" font-weight="900">）</tspan></text>
<text x="2.8" y="315.8" font-size="13.2" text-anchor="start" fill="#111" stroke="#111" stroke-width="0.12">(g)</text>
<text x="177.6" y="316.3" font-size="6.9" text-anchor="end" fill="#1a1a1a" textLength="14.8" lengthAdjust="spacingAndGlyphs" stroke="#1a1a1a" stroke-width="0.25">Al 2p</text>
<polyline points="203.6,422.5 221.28,422.48 229.62,422.2 233.29,421.86 236.29,421.4 238.96,420.78 241.63,419.93 243.97,418.95 246.3,417.71 248.64,416.21 250.97,414.43 252.97,412.7 254.98,410.81 263.65,401.95 265.65,400.16 267.32,398.85 269.32,397.59 270.99,396.82 272.66,396.34 274.33,396.18 275.66,396.34 277.33,397.03 278.66,397.96 280.33,399.51 283,402.7 288,409.6 290.01,412.22 292.01,414.57 294.01,416.59 295.68,417.99 297.68,419.36 299.68,420.41 302.02,421.29 304.35,421.88 306.69,422.26 309.69,422.53 313.36,422.69 322.03,422.79 363.4,422.9" fill="none" stroke="#2ec27e" stroke-width="1.0" stroke-linejoin="round" stroke-linecap="round"/>
<polyline points="203.6,422.5 243.3,422.59 249.64,422.49 252.31,422.22 254.31,421.73 255.98,420.96 256.98,420.26 257.65,419.67 258.65,418.55 259.31,417.62 260.31,415.92 260.98,414.55 262.32,411.18 263.65,406.89 264.98,401.65 266.32,395.5 271.32,368.41 272.99,360.55 273.99,356.82 274.99,354.05 275.66,352.81 275.99,352.38 276.66,351.92 276.99,351.89 277.33,352 278,352.61 279,354.5 280,357.47 281,361.37 282.67,369.43 287.34,394.83 289,402.51 290.34,407.62 291.67,411.78 292.34,413.52 293.34,415.72 294.01,416.94 295.01,418.45 295.68,419.27 296.68,420.24 298.35,421.35 300.01,422.01 302.02,422.43 305.02,422.67 311.69,422.77 363.4,422.9" fill="none" stroke="#f57070" stroke-width="1.0" stroke-linejoin="round" stroke-linecap="round"/>
<polyline points="203.6,422.5 274.33,422.66 276.33,422.61 278,422.45 279.33,422.14 280.33,421.69 281,421.23 281.67,420.61 282.33,419.77 283,418.67 283.67,417.25 284.33,415.47 285.33,412.02 286.34,407.55 287.34,402.09 290.67,380.02 291.67,374.14 292.34,370.98 293.01,368.62 293.68,367.17 294.01,366.82 294.34,366.73 294.68,366.89 295.01,367.31 295.34,367.97 296.01,370.01 296.68,372.89 298.01,380.58 301.01,400.63 302.02,406.32 303.02,411.04 304.02,414.75 305.02,417.5 305.69,418.88 306.35,419.95 307.02,420.76 307.69,421.37 308.69,421.98 310.02,422.42 311.36,422.63 313.36,422.74 363.4,422.9" fill="none" stroke="#2f8fe6" stroke-width="1.0" stroke-linejoin="round" stroke-linecap="round"/>
<polyline points="203.6,422.5 286.34,422.7 288.34,422.65 289.67,422.5 290.67,422.22 291.34,421.87 292.01,421.33 292.67,420.51 293.68,418.53 294.68,415.31 295.34,412.28 296.01,408.47 297.01,401.23 299.68,376.81 300.68,368.9 301.35,365.12 301.68,363.81 302.02,362.93 302.35,362.49 302.68,362.52 303.02,363 303.35,363.92 303.68,365.27 304.35,369.12 305.35,377.11 307.69,398.75 308.69,406.5 309.35,410.69 310.02,414.07 311.02,417.75 312.02,420.07 313.02,421.41 313.69,421.95 314.69,422.41 316.03,422.67 317.7,422.76 363.4,422.9" fill="none" stroke="#c77ef0" stroke-width="1.0" stroke-linejoin="round" stroke-linecap="round"/>
<polyline points="203.6,422.41 219.61,422.24 227.62,421.99 230.62,421.78 233.29,421.48 235.63,421.07 237.96,420.5 240.3,419.7 242.63,418.65 244.97,417.29 246.97,415.89 249.3,413.96 251.64,411.73 253.64,409.55 255.64,407.02 256.98,405.04 257.98,403.33 258.98,401.38 259.98,399.13 261.65,394.53 263.32,388.63 264.98,381.23 266.65,372.34 271.32,342.98 272.32,337.09 273.32,331.88 274.33,327.57 275.66,323.16 276.33,321.68 276.66,321.31 276.99,321.28 277.33,321.62 278,323.11 278.66,325.3 279.33,328.11 280.33,333.3 282.67,346.62 284,352.68 284.67,354.86 285.33,356.39 285.67,356.89 286,357.22 286.34,357.37 286.67,357.36 287,357.18 287.67,356.35 288.34,354.94 289,353.03 290.34,348.12 293.34,335.58 294.68,331.24 295.68,329.04 297.34,326.38 297.68,326.18 298.01,326.42 298.35,327.17 299.01,329.76 300.68,337.21 302.02,344.24 303.35,352.44 307.69,380.98 309.35,390.61 310.69,397.26 312.36,404.14 314.03,409.46 315.03,411.97 316.03,414.03 317.03,415.7 318.03,417.03 319.7,418.65 320.7,419.35 321.7,419.88 324.03,420.7 327.37,421.29 332.04,421.66 339.71,421.98 350.06,422.22 363.4,422.38" fill="none" stroke="#888" stroke-width="0.8" stroke-linejoin="round" stroke-linecap="round"/>
<polyline points="203.6,422.41 219.61,422.24 227.62,421.99 230.62,421.78 233.29,421.48 235.63,421.07 237.96,420.5 240.3,419.7 242.63,418.65 244.97,417.29 246.97,415.89 249.3,413.96 251.64,411.73 253.64,409.55 255.64,407.02 256.98,405.04 257.98,403.33 258.98,401.38 259.98,399.13 261.65,394.53 263.32,388.63 264.98,381.23 266.65,372.34 271.32,342.98 272.32,337.09 273.32,331.88 274.33,327.6 275.33,324.47 275.99,323.09 276.33,322.63 276.66,322.31 276.99,322.18 277.33,322.31 277.66,322.71 278,323.36 278.33,324.25 279,326.65 280,331.47 282.67,346.62 284,352.68 284.67,354.86 285.33,356.39 285.67,356.89 286,357.22 286.34,357.37 286.67,357.36 287,357.18 287.67,356.35 288.34,354.94 289,353.03 290.34,348.12 293.34,335.58 294.34,332.19 295.01,330.41 295.68,329.09 296.01,328.63 296.68,328.11 297.01,328.06 297.34,328.16 297.68,328.41 298.01,328.82 298.68,330.09 299.35,331.94 300.01,334.34 300.68,337.22 301.68,342.35 303.35,352.44 308.02,383.01 309.69,392.37 311.02,398.77 312.69,405.33 314.36,410.35 315.03,411.97 316.03,414.03 317.03,415.7 318.03,417.03 319.7,418.65 320.7,419.35 321.7,419.88 324.03,420.7 327.37,421.29 332.04,421.66 339.71,421.98 350.06,422.22 363.4,422.38" fill="none" stroke="#22c0c0" stroke-width="1.3" stroke-linejoin="round" stroke-linecap="round"/>
<polyline points="203.6,423.3 363.4,423.7" fill="none" stroke="#e8b64a" stroke-width="0.9" stroke-linejoin="round" stroke-linecap="round"/>
<text x="252.2" y="348.6" font-size="6.57" text-anchor="start" fill="#111" textLength="11.5" lengthAdjust="spacingAndGlyphs" stroke="#111" stroke-width="0.22">C-N</text>
<line x1="263.5" y1="348.6" x2="275.5" y2="352.8" stroke="#333" stroke-width="0.5"/>
<polygon points="263.5,348.6 266.32,348.42 265.59,350.5" fill="#222"/>
<text x="315.3" y="344" font-size="6.57" text-anchor="start" fill="#111" textLength="12.5" lengthAdjust="spacingAndGlyphs" stroke="#111" stroke-width="0.22">C-Si</text>
<line x1="313" y1="344.5" x2="294.8" y2="366" stroke="#333" stroke-width="0.5"/>
<polygon points="313,344.5 312.16,347.2 310.48,345.77" fill="#222"/>
<text x="320.8" y="363.8" font-size="6.57" text-anchor="start" fill="#111" textLength="11.6" lengthAdjust="spacingAndGlyphs" stroke="#111" stroke-width="0.22">C-C</text>
<line x1="316.8" y1="363.7" x2="304.7" y2="366" stroke="#333" stroke-width="0.5"/>
<polygon points="316.8,363.7 314.45,365.27 314.04,363.1" fill="#222"/>
<text x="238.8" y="393.4" font-size="6.57" text-anchor="start" fill="#111" textLength="11" lengthAdjust="spacingAndGlyphs" stroke="#111" stroke-width="0.22">C-O</text>
<line x1="249" y1="393.6" x2="269.6" y2="397.8" stroke="#333" stroke-width="0.5"/>
<polygon points="249,393.6 251.77,393.04 251.33,395.2" fill="#222"/>
<line x1="350.08" y1="430.4" x2="350.08" y2="428.8" stroke="#555" stroke-width="0.6"/>
<line x1="336.77" y1="430.4" x2="336.77" y2="427.8" stroke="#555" stroke-width="0.6"/>
<line x1="323.45" y1="430.4" x2="323.45" y2="428.8" stroke="#555" stroke-width="0.6"/>
<line x1="310.13" y1="430.4" x2="310.13" y2="427.8" stroke="#555" stroke-width="0.6"/>
<line x1="296.82" y1="430.4" x2="296.82" y2="428.8" stroke="#555" stroke-width="0.6"/>
<line x1="283.5" y1="430.4" x2="283.5" y2="427.8" stroke="#555" stroke-width="0.6"/>
<line x1="270.18" y1="430.4" x2="270.18" y2="428.8" stroke="#555" stroke-width="0.6"/>
<line x1="256.87" y1="430.4" x2="256.87" y2="427.8" stroke="#555" stroke-width="0.6"/>
<line x1="243.55" y1="430.4" x2="243.55" y2="428.8" stroke="#555" stroke-width="0.6"/>
<line x1="230.23" y1="430.4" x2="230.23" y2="427.8" stroke="#555" stroke-width="0.6"/>
<line x1="216.92" y1="430.4" x2="216.92" y2="428.8" stroke="#555" stroke-width="0.6"/>
<rect x="203.6" y="303" width="159.8" height="127.4" fill="none" stroke="#7e7e7e" stroke-width="1.3"/>
<text x="203.9" y="438.8" font-size="7" text-anchor="middle" fill="#2a2a2a" textLength="8.85" lengthAdjust="spacingAndGlyphs" stroke="#2a2a2a" stroke-width="0.05">292</text>
<text x="230.53" y="438.8" font-size="7" text-anchor="middle" fill="#2a2a2a" textLength="8.85" lengthAdjust="spacingAndGlyphs" stroke="#2a2a2a" stroke-width="0.05">290</text>
<text x="257.17" y="438.8" font-size="7" text-anchor="middle" fill="#2a2a2a" textLength="8.85" lengthAdjust="spacingAndGlyphs" stroke="#2a2a2a" stroke-width="0.05">288</text>
<text x="283.8" y="438.8" font-size="7" text-anchor="middle" fill="#2a2a2a" textLength="8.85" lengthAdjust="spacingAndGlyphs" stroke="#2a2a2a" stroke-width="0.05">286</text>
<text x="310.43" y="438.8" font-size="7" text-anchor="middle" fill="#2a2a2a" textLength="8.85" lengthAdjust="spacingAndGlyphs" stroke="#2a2a2a" stroke-width="0.05">284</text>
<text x="337.07" y="438.8" font-size="7" text-anchor="middle" fill="#2a2a2a" textLength="8.85" lengthAdjust="spacingAndGlyphs" stroke="#2a2a2a" stroke-width="0.05">282</text>
<text x="363.7" y="438.8" font-size="7" text-anchor="middle" fill="#2a2a2a" textLength="8.85" lengthAdjust="spacingAndGlyphs" stroke="#2a2a2a" stroke-width="0.05">280</text>
<text x="250.5" y="450" font-size="7.2" text-anchor="start" font-weight="bold" fill="#111" textLength="42.98" lengthAdjust="spacingAndGlyphs" stroke="#111" stroke-width="0.22">Bindg cenergy</text>
<text x="292.6" y="450" font-size="7.2" text-anchor="start" font-weight="bold" fill="#111" textLength="26.22" lengthAdjust="spacingAndGlyphs" stroke="#111" stroke-width="0.22"><tspan font-family="'Noto Serif CJK SC', serif" font-weight="900">（</tspan>ev<tspan font-family="'Noto Serif CJK SC', serif" font-weight="900">）</tspan></text>
<text x="0" y="0" font-size="7.1" font-weight="bold" text-anchor="middle" fill="#111" stroke="#111" stroke-width="0.2" transform="translate(193.4,363.6) rotate(-90)">Intensity<tspan font-size="7.9" font-family="'Noto Serif CJK SC', serif" font-weight="900">（</tspan><tspan font-size="7.9">a.u.</tspan><tspan font-size="7.9" font-family="'Noto Serif CJK SC', serif" font-weight="900">）</tspan></text>
<text x="187.8" y="316.4" font-size="13.2" text-anchor="start" fill="#111" stroke="#111" stroke-width="0.12">(h)</text>
<text x="357.6" y="314.8" font-size="6.9" text-anchor="end" fill="#1a1a1a" textLength="12.3" lengthAdjust="spacingAndGlyphs" stroke="#1a1a1a" stroke-width="0.25">C 1s</text>
<polyline points="385.5,394.12 386.49,409.99 387.47,406.59 388.46,406.57 389.45,400.55 390.44,409.86 391.42,401.97 392.41,410.24 393.4,397.77 394.39,398.1 395.37,404.65 396.36,399 397.35,407.52 398.34,404.92 399.32,397.56 400.31,403.71 401.3,401.06 402.29,408.88 403.27,399.26 404.26,400.43 405.25,410.63 406.24,416.96 407.22,415.45 408.21,403.41 409.2,404.34 410.19,412.45 411.17,402.13 412.16,396.81 413.15,403.55 414.14,405.58 415.12,397.59 416.11,392.47 417.1,393.72 418.08,406.7 419.07,397.82 420.06,401.58 421.05,403.72 422.03,406.17 423.02,400.19 424.01,405.28 425,396.6 425.98,399.79 426.97,395.6 427.96,408.87 428.95,401.58 429.93,397.06 430.92,399.33 431.91,400.01 432.9,405.57 433.88,391.16 434.87,394.41 435.86,398.25 436.85,416.01 437.83,405.89 438.82,398.86 439.81,403.48 440.8,411.25 441.78,396.38 442.77,394.78 443.76,403.69 444.75,398.27 445.73,398.29 446.72,389.82 447.71,403.67 448.69,401.06 449.68,392.65 450.67,392.05 451.66,373.89 452.64,389.07 453.63,382.57 454.62,385.11 455.61,385.28 456.59,377.51 457.58,367.66 458.57,378.84 459.56,370.26 460.54,370.97 461.53,367.29 462.52,366.78 463.51,352.28 464.49,371.72 465.48,363.2 467.46,368.62 469.43,339.9 470.42,343.03 471.41,338.73 472.39,340.9 473.38,342.49 474.37,327.79 475.36,340.79 476.34,328.12 477.33,338.64 478.32,336.09 479.31,335.6 480.29,338.72 481.28,338.23 482.27,340.81 483.25,337.6 485.23,366.65 486.22,370.96 488.19,369.57 489.18,364.04 490.17,380.1 491.15,373.6 492.14,376.19 493.13,377.34 494.12,382.1 495.1,381.07 496.09,385.33 497.08,381.05 498.07,387.23 499.05,405.31 500.04,392.21 501.03,392.5 502.02,398.49 503,400.66 503.99,390.33 504.98,396.81 505.97,404.55 506.95,401.21 507.94,400.89 508.93,410.3 509.92,396.93 510.9,402.05 511.89,398.68 512.88,411.47 513.86,390.41 514.85,398.62 515.84,399.72 516.83,407.32 517.81,407.15 518.8,412.21 519.79,393.95 520.78,408.5 521.76,402.16 522.75,399.97 523.74,407.55 524.73,398.6 525.71,391.53 526.7,402.2 527.69,395.29 528.68,400.63 529.66,407.03 530.65,406.73 531.64,414.71 532.63,403.69 533.61,395.49 534.6,400.36 535.59,399.4 536.58,397.61 537.56,407.91 538.55,401.25 539.54,393.04 540.53,409.66 541.51,404.7 542.5,407.64" fill="none" stroke="#6a6a6a" stroke-width="0.75" stroke-linejoin="round" stroke-linecap="round"/>
<polyline points="385.5,408.3 542.5,408.3" fill="none" stroke="#2f8fe6" stroke-width="1.0" stroke-linejoin="round" stroke-linecap="round"/>
<polyline points="385.5,407.56 400.31,407.26 412.16,406.86 422.03,406.33 429.93,405.64 435.86,404.79 439.81,403.86 441.78,403.21 443.76,402.38 445.73,401.31 446.72,400.67 448.69,399.13 449.68,398.21 451.66,396.03 453.63,393.35 454.62,391.79 456.59,388.23 458.57,384.05 461.53,376.68 463.51,371.14 468.44,356.44 470.42,351.04 471.41,348.66 472.39,346.57 473.38,344.84 474.37,343.53 475.36,342.68 476.34,342.31 477.33,342.45 478.32,343.1 479.31,344.21 480.29,345.76 481.28,347.7 482.27,349.96 484.24,355.19 489.18,369.87 492.14,378.15 494.12,383.05 496.09,387.36 498.07,391.06 500.04,394.15 502.02,396.69 503.99,398.74 505.97,400.36 506.95,401.04 508.93,402.16 511.89,403.41 513.86,404.02 515.84,404.5 519.79,405.21 525.71,405.9 533.61,406.49 542.5,406.93" fill="none" stroke="#1fb58a" stroke-width="1.1" stroke-linejoin="round" stroke-linecap="round"/>
<text x="439.1" y="350.6" font-size="6.57" text-anchor="start" fill="#111" textLength="12.8" lengthAdjust="spacingAndGlyphs" stroke="#111" stroke-width="0.22">N-H</text>
<line x1="452.8" y1="351.6" x2="468.4" y2="355.7" stroke="#333" stroke-width="0.5"/>
<polygon points="452.8,351.6 455.59,351.2 455.03,353.32" fill="#222"/>
<line x1="526.8" y1="430.4" x2="526.8" y2="428.8" stroke="#555" stroke-width="0.6"/>
<line x1="511.1" y1="430.4" x2="511.1" y2="427.8" stroke="#555" stroke-width="0.6"/>
<line x1="495.4" y1="430.4" x2="495.4" y2="428.8" stroke="#555" stroke-width="0.6"/>
<line x1="479.7" y1="430.4" x2="479.7" y2="427.8" stroke="#555" stroke-width="0.6"/>
<line x1="464" y1="430.4" x2="464" y2="428.8" stroke="#555" stroke-width="0.6"/>
<line x1="448.3" y1="430.4" x2="448.3" y2="427.8" stroke="#555" stroke-width="0.6"/>
<line x1="432.6" y1="430.4" x2="432.6" y2="428.8" stroke="#555" stroke-width="0.6"/>
<line x1="416.9" y1="430.4" x2="416.9" y2="427.8" stroke="#555" stroke-width="0.6"/>
<line x1="401.2" y1="430.4" x2="401.2" y2="428.8" stroke="#555" stroke-width="0.6"/>
<rect x="385.5" y="303" width="157" height="127.4" fill="none" stroke="#7e7e7e" stroke-width="1.3"/>
<text x="385.8" y="438.8" font-size="7" text-anchor="middle" fill="#2a2a2a" textLength="8.85" lengthAdjust="spacingAndGlyphs" stroke="#2a2a2a" stroke-width="0.05">406</text>
<text x="417.2" y="438.8" font-size="7" text-anchor="middle" fill="#2a2a2a" textLength="8.85" lengthAdjust="spacingAndGlyphs" stroke="#2a2a2a" stroke-width="0.05">404</text>
<text x="448.6" y="438.8" font-size="7" text-anchor="middle" fill="#2a2a2a" textLength="8.85" lengthAdjust="spacingAndGlyphs" stroke="#2a2a2a" stroke-width="0.05">402</text>
<text x="480" y="438.8" font-size="7" text-anchor="middle" fill="#2a2a2a" textLength="8.85" lengthAdjust="spacingAndGlyphs" stroke="#2a2a2a" stroke-width="0.05">400</text>
<text x="511.4" y="438.8" font-size="7" text-anchor="middle" fill="#2a2a2a" textLength="8.85" lengthAdjust="spacingAndGlyphs" stroke="#2a2a2a" stroke-width="0.05">398</text>
<text x="542.8" y="438.8" font-size="7" text-anchor="middle" fill="#2a2a2a" textLength="8.85" lengthAdjust="spacingAndGlyphs" stroke="#2a2a2a" stroke-width="0.05">396</text>
<text x="431.6" y="450" font-size="7.2" text-anchor="start" font-weight="bold" fill="#111" textLength="42.23" lengthAdjust="spacingAndGlyphs" stroke="#111" stroke-width="0.22">Bindg cenergy</text>
<text x="472.96" y="450" font-size="7.2" text-anchor="start" font-weight="bold" fill="#111" textLength="25.77" lengthAdjust="spacingAndGlyphs" stroke="#111" stroke-width="0.22"><tspan font-family="'Noto Serif CJK SC', serif" font-weight="900">（</tspan>ev<tspan font-family="'Noto Serif CJK SC', serif" font-weight="900">）</tspan></text>
<text x="0" y="0" font-size="7.1" font-weight="bold" text-anchor="middle" fill="#111" stroke="#111" stroke-width="0.2" transform="translate(376.3,363.6) rotate(-90)">Intensity<tspan font-size="7.9" font-family="'Noto Serif CJK SC', serif" font-weight="900">（</tspan><tspan font-size="7.9">a.u.</tspan><tspan font-size="7.9" font-family="'Noto Serif CJK SC', serif" font-weight="900">）</tspan></text>
<text x="369.9" y="315.8" font-size="13.2" text-anchor="start" fill="#111" stroke="#111" stroke-width="0.12">(i)</text>
<text x="535.1" y="314.6" font-size="6.9" text-anchor="end" fill="#1a1a1a" textLength="12.2" lengthAdjust="spacingAndGlyphs" stroke="#1a1a1a" stroke-width="0.25">N 1s</text>
</svg>
</body></html>
